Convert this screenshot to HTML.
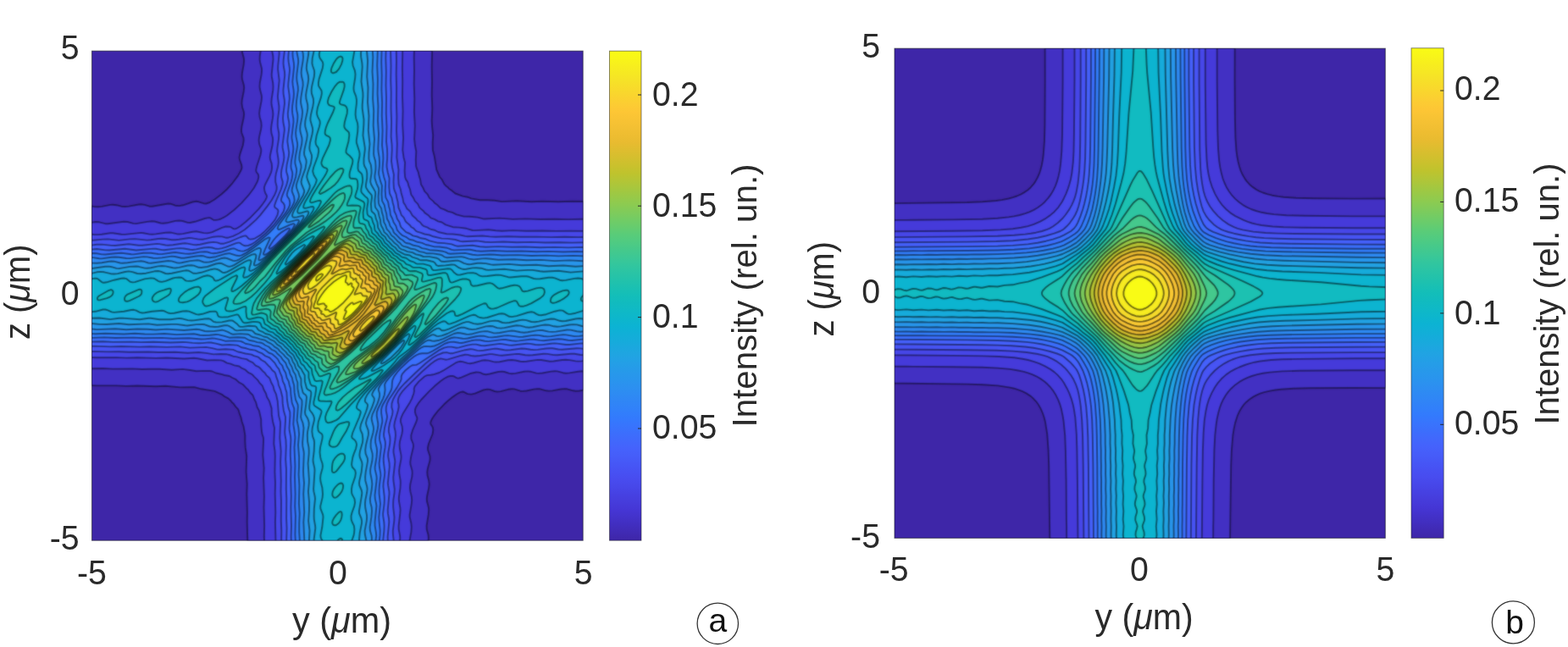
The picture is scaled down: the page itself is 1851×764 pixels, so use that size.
<!DOCTYPE html>
<html lang="en"><head><meta charset="utf-8"><title>Intensity distributions (a) and (b)</title>
<style>html,body{margin:0;padding:0;background:#fff}body{width:1851px;height:764px;overflow:hidden}svg{display:block}</style>
</head><body>
<svg width="1851" height="764" viewBox="0 0 1851 764" font-family="'Liberation Sans', sans-serif" fill="#2a2a2a">
<defs><filter id="bl" x="-2%" y="-2%" width="104%" height="104%" color-interpolation-filters="sRGB"><feGaussianBlur in="SourceGraphic" stdDeviation="1.1" result="b"/><feComposite in="SourceGraphic" in2="b" operator="arithmetic" k1="0" k2="0.5" k3="0.5" k4="0"/></filter></defs>
<clipPath id="cp1"><rect x="108.5" y="60.2" width="579.7" height="578.0"/></clipPath>
<rect x="108.5" y="60.2" width="579.7" height="578.0" fill="#3e26a8"/>
<g clip-path="url(#cp1)" stroke="#000" stroke-width="1.9" stroke-linejoin="round" filter="url(#bl)">
<path fill="#4230c3" stroke-opacity="0.45" d="M287.6 42.9l222.4 0 0.1 18.7-0.4 17.4 0.3 17.3-0.3 15.9 0.6 15.9-0.6 14.5 0.3 5.7 1.2 11.6-0.5 8.7 0.2 8.6 1.9 7.3 2.5 15.9 3.8 8.6 2.5 2.9 2.8 5.4 2.9 3 1.5 1 1.4 1.7 3 1.9 4.3 3.6 8.7 3.1 5.8 1.1 4.3 1.7 10.2 1.9 8.7 0 8.7 0.5 8.6 1.3 17.4-0.8 17.4 0.9 13.1-0.4 18.8 0.4 16-0.4 17.3 0.2 13.1-0.4 0 223-4.4-1.1-2.9-0.2-4.3 0.4-10.1 1.8-4.4 0.2-2.9-0.4-7.2-2-2.9-0.2-4.4 0.4-10.1 1.9-4.4 0.2-2.9-0.3-7.2-2-2.9-0.2-4.4 0.5-8.7 1.9-4.3 0.4-2.9-0.2-7.3-2.3-2.9-0.1-4.3 0.5-8.7 2.3-4.3 0.4-2.9-0.5-5.8-2.1-2.9-0.3-4.4 0.9-10.1 4.1-4.4 1-4.3-0.5-4.4-2.3-1.4-0.3-2.9 0.7-3.2 1.6-5.5 3.8-5.8 4.7-4.9 4.5-6.7 7.1-4.7 5.9-2.7 4.3-1.3 2.9-0.2 1.5 0.2 1.5 1.9 2.8 0.6 1.5 0.3 2.9-0.7 4.3-4.6 11.5-1 4.4 0.1 2.9 2.4 7.2 0.2 2.9-0.3 2.9-2.4 8.6-0.7 4.4 0.3 4.3 1.6 5.8 0.5 4.3-0.5 4.4-2.1 9.9-0.3 3.1 0.2 2.9 1.9 7.2 0.3 2.9-0.5 5.8-2.1 13 0.2 4.3 1.8 6.6 0.3 3.5-0.4 4.3-1.9 11.6-0.3 4.3-211.2 0 0.2-15.9-0.6-23.1 0.2-11.5-0.6-21.7 0.4-11.6-1.1-14.4 0.6-18.8-1.5-10.1-0.4-7.2 0-7.3-1.7-10.1-2-5.8-1.3-5.7-1.2-2.9-1.3-4.4-0.8-1.8-2.9-3.1-2.6-3.7-1.8-1.5-1-1.4-3-2.9-4.7-2.4-2.9-2.4-8.7-3.9-15.9-2.6-7.3-2-5.8-0.2-11.6 0.3-17.3-1.6-11.6 0.5-21.8-0.8-13 0.4-11.6-0.5-23.2 0-11.6-0.5-11.6 0.1 0-211.6 5.8-1.1 4.4-0.1 2.9 0.3 7.2 1.6 4.3 0.2 4.4-0.4 10.1-2 2.9-0.2 4.4 0.5 5.8 1.5 4.3 0.3 4.4-0.4 11.6-2.1 2.9-0.2 4.3 0.6 5.8 1.8 2.9 0.1 18.9-3.3 2.9 0.2 5.7 2 4.4 0.4 4.8-0.8 11.1-3.8 4.4-0.7 2.9 0.5 5.8 1.9 2.9 0.3 4.3-1.5 5.8-3.5 8.2-6.2 6.3-5.8 6.5-7.2 6.5-8.7 3.3-5.8 1.1-2.9 0.2-1.4-0.4-2.9-2.1-5.8-0.5-2.9 0.9-4.3 3.4-10.1 0.9-5.8-0.2-2.9-2.2-5.8-0.4-2.9 0.4-4.3 2.2-10.1 0.6-4.4-0.2-2.8-1.8-5.8-0.7-4.4 0.3-4.3 2-10.1 0.5-4.3-0.3-2.9-2-7.3-0.3-2.9 0.3-4.3 1.8-10.1 0.4-4.3-0.2-2.9-2-7.3-0.4-2.8 0.3-5.8 1.6-8.7z"/>
<path fill="#453ada" stroke-opacity="0.45" d="M307.4 42.9l181.6 0 0.2 8.6-0.5 15.9 0.3 15.9-0.3 15.9 0.6 17.4-0.4 15.9 0.9 15.8-0.7 15.9 0.8 7.3 1.4 7.2-0.5 10.1 0.3 7.2 0.8 2.9 1.9 4.4 0.9 4.3 1.4 4.3 0.9 5.8 2.5 4.3 1.7 3.9 3.4 3.4 2.4 4.6 4.7 4 1.1 1.7 3.8 2.7 3.5 3.6 4.3 1.5 4.4 2.3 5.1 1.2 5 2.5 8.7 2.2 7.3 0.1 8.7 0.9 6 1.6 2.7 0.3 17.4-0.9 15.9 1.3 14.5-0.5 17.4 0.6 17.4-0.3 15.9 0.4 17.4-0.4 17.4 0.3 0 181.4-4.4 0.4-2.9-0.2-7.2-1.9-4.3-0.4-4.4 0.4-10.1 1.7-4.4 0.3-3.4-0.5-6.7-1.8-2.9-0.2-4.4 0.4-10.1 1.9-4.4 0.4-2.9-0.3-7.2-1.9-2.9-0.3-4.4 0.4-10.1 2.1-4.4 0.3-2.9-0.3-5.8-1.9-2.9-0.4-4.3 0.4-10.1 2.5-4.4 0.7-2.9-0.4-3.5-1.6-2.3-0.6-2.9-0.1-5.8 1.2-11.6 5-2.9 0.8-1.4 0.1-1.5-0.4-2.5-1.6-1.8-0.6-2.9 0-2.9 0.7-4.4 2.3-4.3 3.1-7.2 6-6.1 5.8-9.6 10.1-3.5 4.4-2.7 4.3-1 2.9-0.1 2.9 0.7 2.9 1.4 2.9 0.4 1.4-0.1 1.4-0.9 2.9-4.4 10.2-1.7 5.7 0.1 4.4 2.3 5.7 0.3 2.9-0.5 2.9-2.4 10.1-0.8 5.8 0.2 2.9 2 7.2 0.2 2.9-0.4 4.4-2 8.6-0.4 4.4 0.5 4.3 1.4 5.8 0.4 4.3-0.4 4.3-2.2 13.1 0.1 2.8 1.7 7.3 0.4 4.3-0.4 5.8-1.8 10.1-0.3 4.3 0.3 2.9 1.6 5.8 0.4 4.3-173.3 0 0.1-11.5-0.6-10.1 0.3-13-0.6-21.7 0.4-13-0.8-21.7 0.6-11.6-1.4-15.8 0.8-17.4-0.2-2.9-1.4-4.3-0.5-2.9-0.7-7.2-0.1-7.3-2.3-10.1-2.3-4.3-1.5-5.8-1.6-2.9-2.1-5.5-2.9-2.7-2.9-4-1.5-1.1-4.3-4.7-4.4-2.3-4.3-3.9-3.9-1.8-3.4-2-5.8-1-4.3-1.3-5.8-1.2-4.4-2-2.9-0.5-7.2-0.1-8.7 0.3-7.3-1.2-8.7-1.1-13 0.8-14.5-0.9-10.1-0.1-10.2 0.3-11.6-0.6-23.2 0.2-11.6-0.6-21.7 0.3-8.7-0.4 0-170.6 2.9 0.1 4.4-0.2 14.4-2.2 4.4 0.3 7.2 1.9 2.9 0.1 18.9-2.6 4.3 0.3 6.9 1.9 3.3 0.2 13-2.2 5.8-0.6 2.9 0.2 7.3 2 2.9 0.3 4.3-0.5 10.1-2.4 4.4-0.4 4.3 0.5 5.8 1.9 2.9 0.1 5.8-1.2 11.6-3.8 4.4-0.9 1.4 0.1 1.5 0.7 2.9 1.8 2.9 0.2 2.9-0.5 2.9-0.9 3.6-1.8 3.6-2.2 8.7-6.7 8.7-8.2 8-8.9 6.5-8.7 3.9-7.2 1-2.9 0.6-2.9-0.4-2.9-2.1-2.8-0.5-1.5 0-1.4 1-4.4 4.2-13 0.8-4.3-0.1-2.9-2.1-5.8-0.5-4.3 0.5-4.3 2-8.7 0.6-4.4-0.4-4.3-1.7-5.8-0.5-4.3 0.5-4.3 2-10.2 0.4-4.3-0.3-2.9-1.9-7.2-0.3-2.9 0.3-4.3 1.9-10.1 0.4-4.4-0.2-2.9-1.9-7.2-0.4-2.9 0.2-4.3 2.2-14.5-0.1-2.9-1-4.3z"/>
<path fill="#4747e9" stroke-opacity="0.46" d="M322 42.9l153 0 0.2 20.2-0.3 17.3 0.3 15.9-0.2 17.4 0.6 17.3-0.4 15.9 0.9 15.9-0.8 14.4 1.2 8.7 1.6 6.2-0.5 9.7 0.5 7.2 1 2.9 1.9 2.7 0.6 1.7 0.8 3.4 1.6 3.8 1.3 6.3 2.7 3.8 1.7 3.7 3.5 3.5 2.2 4.6 4.8 4.1 1 1.6 4.4 3.1 2.9 3.2 4.3 1.5 4.4 2.4 4.4 1.2 4.4 2.9 8.6 2.8 7.2 0.4 8.7 1.2 7.3 2.2 2.9 0.1 15.9-0.9 8.7 1 7.2 0.5 13.1-0.6 15.9 0.6 18.9-0.2 15.9 0.4 17.4-0.3 17.4 0.3 14.5-0.4 0 152.8-2.9-0.3-4.4 0-11.5 1.4-4.4 0.2-2.9-0.2-7.2-1.3-4.4-0.3-4.3 0.2-10.2 1.5-4.3 0.2-10.2-1.7-4.3-0.1-13.1 1.8-4.3 0.3-2.9-0.2-5.8-1.3-4.4-0.5-4.3 0.3-10.1 1.9-4.4 0.3-2.9-0.4-5.8-1.5-4.3-0.3-4 0.5-9.1 2.7-4.3 0.7-2.9-0.3-5.8-1.8-2.9-0.3-2.9 0.6-2.9 1.3-14.5 9-4.4 2.3-7.2 2.3-2.9 0.5-4.4 0.3-2.9 1.4-6.7 5.9-4.8 5.7-1 2.9 0.2 2.9-0.6 2.9-2.1 5.8-2.2 4.3-8.1 13-2 4.4-0.9 2.8-0.1 2.9 1.8 5.8 0.4 4.4-0.7 4.3-2.4 8.7-0.4 4.3 0.3 4.3 1.5 7.3 0.2 2.8-0.3 2.9-1.7 8.7-0.5 4.3 0.3 4.4 1.3 7.2 0.1 2.9-0.3 5.8-1.5 10.1-0.2 2.9 0.2 2.9 1.3 7.2 0.3 2.9-0.3 4.3-1.7 14.5 0.1 4.3 1.4 7.2 0.2 2.9-1.5 14.5-0.3 5.7-145.3 0 0.3-15.9-0.6-23.1 0.4-11.5-0.6-21.7 0.3-13-0.6-13 0.4-18.8-0.3-5.8-1.2-8.7 0.7-18.7-1.9-7.3-1.3-8.6-0.2-7.3-2.7-8.6-2.7-4.4-1.2-4.3-2.6-4.8-1.5-4.3-3.7-3.9-2.1-3.2-4.2-4-1.5-1.8-1.5-1.1-3.4-1.5-3.8-3.5-4.4-2-2.9-2.2-5.8-1.1-4.3-1.7-4.4-1.1-4.3-2.4-2.9-0.8-7.3-0.3-8.7 0.4-11.6-2.3-4.3-0.4-11.6 0.7-20.3-1-13 0.4-21.8-0.6-13 0.3-11.6-0.5-23.2 0.2-11.6-0.5-11.6 0.2 0-145.6 4.4-0.6 4.3-0.2 11 1.4 4.9 0.1 4.4-0.3 10.1-1.5 2.9-0.1 10.2 1.6 4.3 0.1 18.9-2 2.9 0.3 7.2 1.4 2.9 0.2 4.4-0.4 11.6-1.7 4.3-0.2 2.9 0.3 5.8 1.4 2.9 0.3 4.3-0.4 11.6-2.4 4.4-0.4 8.7 1.8 4.3 0.3 2.9-0.5 2.9-0.8 11.6-5.3 4.4-1.3 4.3 0.2 1.9 0.6 2.5 1.7 1.4 0.4 1.5-0.2 1.4-0.5 4.4-2.7 5.8-4.7 6.2-5.6 9.7-10.1 4.6-5.8 3-4.3 1.4-2.9 0.4-1.4-0.2-1.5-1.7-2.9-0.8-2.9-0.4-2.9 0.2-1.4 1-2.9 5.2-10.1 1.8-4.3 0.7-2.9 0.3-2.9-0.4-4.4-1.5-4.3-0.5-2.9 0.3-2.9 2.6-11.5 0.6-5.8-0.2-2.9-1.6-5.8-0.4-4.3 0.4-4.4 1.5-8.6 0.5-4.4-0.3-4.3-1.5-7.2-0.2-2.9 0.3-4.3 1.6-10.2 0.2-4.3-0.3-4.3-1.4-7.3-0.1-2.8 1.8-17.4-0.2-4.3-1.4-7.2-0.2-2.9 0.2-4.4 0.9-7.2z"/>
<path fill="#4754f4" stroke-opacity="0.46" d="M328.3 42.9l139.7 0-0.3 11.5 0.3 17.4-0.3 15.9 0.4 15.9-0.2 17.3 0.5 17.3-0.4 15.9 0.8 15.9-0.5 15.9 2.2 14.5-0.4 8.6 0.5 8.7 2.2 5.8 0.9 4.9 1.6 5.2 1.1 5.8 2 2.9 2.1 4.3 3.5 2.9 2.8 5 4.4 3.7 1.4 2 3.4 2.3 2.3 3.1 1.5 1.2 4.3 1.5 2.9 1.8 1.5 0.6 4.3 1 4.4 2.3 10.1 2.3 7.3 0.2 8.7 1 5.8 1.4 2.9 0.3 17.4-0.7 8.7 0.9 7.2 0.4 14.5-0.5 14.5 0.5 18.8-0.2 17.4 0.5 16-0.3 15.9 0.3 23.2-0.3 0 138-11.6 1.3-4.4 0.2-4.3-0.3-7.2-1.2-4.4-0.1-15.9 1.6-4.4-0.2-7.2-1.2-4.4-0.2-13 1.6-4.4 0.2-4.3-0.3-7.3-1.2-2.9-0.1-17.4 1.9-2.8-0.2-8.7-1.5-2.9 0-11.6 1.9-5.8 0.5-4.4-0.5-4.3-1.1-2.9-0.1-4.4 0.9-15.9 4.7-2.9 0.3-4.4-1.1-1.4-0.1-2.9 0.7-3.2 1.6-5.5 4-10.2 9-19.2 18.8-3.9 4.3-2.9 4.1-1.6 3.1-0.8 2.9-0.1 2.9 0.8 2.9 0.1 2.9-0.9 4.3-3.8 13-0.7 4.4 0.3 2.9 1.1 4.3 0.3 4.3-0.6 5.8-1.9 11.6 0 2.9 1.6 8.6 0.2 2.9-2 17.4 0.1 4.3 1.4 10.1-0.2 4.3-1.3 8.7-0.2 4.3 0.1 4.4 1.3 11.5-0.2 4.4-1.5 11.5 0.1 4.4 1.3 11.5-0.2 5.8-1 7.2-131.7 0-0.3-7.2 0.3-21.7-0.5-11.5 0.2-23.1-0.5-11.6 0.3-13-0.7-21.7 0.6-13-1.4-15.9 0.7-15.9-0.1-2.9-1.8-7.2-1.4-17.3-1.8-8.2-2.3-4.8-1-4.4-2.5-4.6-1.5-4.3-0.9-1.2-3.3-2.9-1.8-2.9-1.8-1.4-3.9-4.3-1.3-1.1-3.9-1.8-3.3-3.5-4.4-2-2.9-2-5.8-1-5.7-1.7-4.4-0.7-4.4-1.7-2.9-0.7-7.2-0.3-8.7 0.4-8.7-1.5-8.7-0.9-13.1 0.7-14.5-1-20.2 0.3-11.6-0.5-23.2 0.2-11.6-0.5-13.1 0.2-21.7-0.5-14.5 0.4 0-132.7 4.4 0 8.7 1.3 2.9 0.1 14.4-1.4 5.8-0.2 13.1 1.5 13-1.5 5.8-0.3 14.5 1.5 4.4-0.3 8.7-1.3 4.3-0.2 4.4 0.2 7.2 1.2 4.3 0 4.4-0.4 11.6-1.8 2.9 0.1 8.7 1.5 4.3 0.1 4.4-0.8 8.7-2.2 5.8-0.6 4.3 0.3 4.4 1.3 2.9 0 5.8-1.8 7-3.4 6.6-4.3 5.4-4.4 7.9-7.2 4.9-5.2 8.7-11 4.9-6.9 3.8-6.8 1.4-3.3 0.8-2.9 0.1-2.9-1.5-5.8 0-5.8 0.7-4.3 2.4-8.7 0.5-4.3-0.3-4.3-1.4-8.7 0.3-4.3 1.6-10.2 0.3-4.3-0.1-2.9-1.3-7.2-0.2-2.9 0.2-5.8 1.5-11.5 0-4.4-1.3-8.6-0.2-2.9 1.8-18.8-1.6-13 0.1-4.4 1.5-14.4-0.3-4.3-1.3-8.7 0.1-5.8z"/>
<path fill="#4561fc" stroke-opacity="0.47" d="M334.5 42.9l127.1 0-0.5 18.7 0.4 15.9-0.3 17.4 0.5 14.4-0.2 18.8 0.6 15.9-0.5 17.4 1 10.1 0.1 5.7-0.7 13.1 1 7.2 1.9 8.6-0.4 8.7 0.4 7.2 0.8 2.9 1.9 4.4 0.7 4.3 1.2 4.3 0.9 7.3 1.9 4.3 1.4 4.3 2.9 3 2 4.3 0.9 1.2 4.4 3.6 1.4 2.1 3 1.7 2.8 3.1 1.5 0.9 4.3 1.1 4.3 1.7 5.8 1 4.4 1.8 10.1 2.3 7.3 0.3 8.7 1.1 5.8 1.9 2.9 0.4 15.9-0.8 2.9 0.1 7.3 1.1 7.2 0.4 14.5-0.6 15.9 0.7 17.4-0.3 16 0.6 17.4-0.3 14.5 0.4 18.8-0.4 11.6 0.3 0 125.5-5.8 0.7-4.4 0.1-10.1-1.4-4.3-0.2-17.4 1.6-4.4-0.3-6.9-1.2-3.2-0.1-4.4 0.3-10.1 1.4-4.4 0.2-3.9-0.3-6.2-1.1-4.4-0.2-13 1.7-4.4 0.3-2.9-0.2-8.6-1.6-2.9-0.1-13.1 2.2-4.3 0.3-2.9-0.2-5.8-1.5-2.9-0.2-5.8 1-14.5 4-2.9 0.1-4.4-1.2-4.3 0.4-5.8 2.3-7.1 4.1-7.2 5.8-12.5 11.5-12.3 12-4.4 4.6-4 5.1-3.6 5.8-2.2 4.3-1.4 4.4-0.2 4.3 1.2 4.3 0 1.5-0.4 2.9-3 10.1-1.1 5.8-0.2 4.3 1.4 5.8 0.3 4.3-0.3 4.3-1.9 10.2-0.2 2.9 0.2 2.8 1.3 7.3 0.2 4.3-2 18.8 0.3 2.9 1.3 7.2 0.1 2.9-1.8 18.8 0.2 4.3 1.1 5.8 0.3 4.3-1.7 17.4 0.2 5.3 1.2 9.1-0.4 7.2-119.9 0-0.5-18.7 0.4-13-0.5-11.6 0.2-23.1-0.5-11.6 0.2-23.1-0.8-11.6 0.6-15.9-0.3-7.2-1.2-7.2-0.1-2.9 0.8-13 0-4.3-2.1-7.3-1.2-8.6-0.3-7.3-2.1-8.6-2.4-5.8-0.7-4.3-2.1-5.8-0.7-2.9-1-2.1-2.9-2.4-2.9-4-1.4-1-4.4-4.8-4.3-2.4-2.9-2.8-1.5-0.8-4.3-1.3-2.9-1.5-7.2-1.1-4.4-1.2-4.3-0.8-5.8-2.6-8.7-0.7-7.3 0.5-2.9-0.1-5.8-1.5-7.2-1.2-18.9 0.7-11.6-1.2-15.9 0.5-20.3-0.7-11.6 0.4-21.7-0.6-13.1 0.4-13-0.5-10.1-0.1-10.2 0.4-5.8-0.2 0-119.9 7.3 1 4.3 0.2 11.6-1.5 5.8-0.2 11.6 1.3 4.3 0.1 16-1.7 11.6 1.4 4.3 0.1 17.4-1.9 2.9 0.2 7.3 1.4 2.9 0.2 5.8-0.5 11.5-1.7 2.9-0.2 2.9 0.3 7.3 1.5 2.9 0.2 4.3-0.5 10.2-2.3 5.8-0.6 4.3 0.5 4.4 1.4 2.9 0 7.2-2.2 13.1-5.6 4.3-1.4 1.5-0.1 1.4 0.5 1.8 2.3 1.1 0.9 1.5 0.4 2.9-0.3 2.9-1 5.7-3.4 4.6-3.8 7.1-7.3 5.9-7.2 3-5.8 0.9-4.3-0.3-1.4-0.9-1.2-2.9-2.2-0.3-1 0.1-1.4 1.5-4.4 6.1-14.4 1.8-5.8 0.2-2.9-1.7-5.8-0.2-4.3 0.5-4.3 2.5-10.1 0.5-4.4-0.3-4.3-1.5-7.2-0.1-2.9 2.3-17.4-0.1-2.9-1.4-7.2-0.3-4.3 0.3-4.4 1.7-13-0.2-4.3-1.2-7.2-0.2-4.4 1.8-17.3-0.2-4.3-1.1-5.8-0.4-4.3 0.2-4.4 1.4-11.5 0-4.4-1.5-10.8z"/>
<path fill="#3b6ffd" stroke-opacity="0.48" d="M341.1 42.9l114.5 0 0.2 8.6-0.5 17.4 0.5 15.9-0.3 15.9 0.5 14.4-0.2 18.8 0.7 15.9-0.5 17.3 1 8.7 0.2 5.8-0.1 5.8-0.6 7.2 0.1 2.9 1.2 6.3 1.8 6.7-0.3 10.1 0.6 7.2 0.4 1.5 2.2 4.3 1.1 5.6 1.3 4.5 0.6 5.8 2.1 4.3 1.2 4.4 2.7 4.3 1.2 4.3 0.8 1.5 5.8 5.8 4.6 1.9 3.6 2.4 5.1 1.1 4.3 1.8 5.8 1 4.3 2.1 10.2 2.4 7.2 0.3 8.7 1.3 4.4 1.7 2.9 0.6 17.4-0.9 8.7 1.4 7.2 0.6 14.5-0.7 15.9 0.7 16-0.3 17.4 0.7 17.4-0.3 15.9 0.5 16-0.5 18.8 0.4 0 114.6-5.8 0.1-8.7-1.4-4.3-0.2-14.5 1.6-4.4 0-10.1-1.4-2.9-0.2-4.4 0.3-10.1 1.4-4.4 0.2-4.1-0.3-6-1.1-4.4-0.2-17.4 2.1-2.9-0.2-8.7-1.5-2.8-0.2-17.4 2.4-4.4-0.3-5.8-1.4-4.3 0-5.8 1-10.2 2.8-2.9 0.3-5.8-1.1-4.3 0-4.4 1-5.8 2.8-23.2 15.3-2.8 1.6-1.5 0.6-4.3 0.4-2.9 1.7-5.8 4.8-3.3 3.9-1.1 2.9 0 2.9-1 2.9-4.1 7.2-9.6 14.4-2.1 4.4-1.1 4.3-0.1 4.3 1.2 5.8 0.1 1.5-0.4 2.8-2.6 10.2-1 7.2 0.2 2.9 1.5 5.8 0.2 2.8-0.3 4.4-1.5 8.7-0.4 4.3 0.1 4.3 1.5 11.6-0.3 4.3-1.4 8.7-0.2 4.3 1.3 11.6 0.1 4.3-0.2 4.3-1.5 11.6 0.1 2.9 1.1 7.2 0.3 4.4-0.2 5.7-1.5 14.5 0.2 2.9 1.3 7.2 0.1 4.3-109.4 0 0-10.1-0.5-11.5 0.4-13-0.6-21.7 0.4-13-0.6-20.2 0.4-14.5-0.8-13 0-7.2 0.6-11.6-0.3-4.3-1.4-7.2-0.2-2.9 0.9-14.5-0.1-4.3-1.6-4.4-0.7-2.9-1.1-7.2-0.5-8.6-1.4-4.4-0.9-4.3-2.2-4.3-1.2-5.8-2-4.4-1.4-4.3-2.4-2.9-2.5-4.4-5.6-5.7-1.6-1.1-4.4-1.7-3.8-3-3.9-1.4-3.8-2.1-6-0.8-4.7-1.5-5.3-1-4.3-2.3-1.5-0.4-8.7-0.6-8.7 0.5-7.2-1.9-5.8-1.1-2.9-0.1-7.3 0.7-4.3 0.1-7.3-0.3-7.2-0.8-4.4-0.1-14.4 0.5-20.3-0.7-14.5 0.3-11.6-0.5-21.8 0.3-11.6-0.6-21.7 0.4-8.7-0.4 0-107.9 8.7 0.1 14.5-1.5 10.1 1.4 4.4 0.1 18.8-1.7 13.1 1.7 20.3-1.9 2.9 0.1 7.2 1.4 2.9 0.2 14.5-1.9 4.3-0.3 4.4 0.4 7.2 1.3 2.9 0.2 4.4-0.6 8.7-1.9 5.8-0.5 4.3 0.5 4.4 1.3 2.9 0.1 4.3-0.8 4.4-1.2 11.6-4.5 2.9-0.8 1.4 0 1.3 0.5 1.6 1.4 2.7 1.5 1.7 0.2 2.9-0.1 4.3-1.6 4.4-2.8 12.5-10.2 9.2-9.5 8.2-10.7 3.6-5.8 1.2-4.3-0.2-2.9-1.2-2.3-2.2-2.1-0.5-1.4 0.1-1.5 0.9-2.8 5.1-13 1.3-4.4 0.7-4.3-0.4-2.9-1.4-4.3-0.2-2.9 0.6-5.8 2.2-10.1 0.4-4.4-1.9-13 0.3-4.3 1.3-8.7 0.6-5.8-0.3-4.3-1.2-5.8-0.2-4.3 2-17.3-0.2-4.4-1.4-10.1 0.2-4.3 1.6-14.5-0.2-3.5-1.1-6.6-0.4-4.3 0.2-4.4 1.4-13-0.1-3.7-0.5-3.5z"/>
<path fill="#327dfb" stroke-opacity="0.48" d="M347 42.9l103.2 0 0.5 13-0.5 17.3 0.5 15.9-0.3 17.3 0.7 14.5-0.3 15.9 0.8 17.3-0.6 17.4 1.2 10.1 0.2 5.8-0.8 11.5 0.1 2.9 1.5 7.2 1.8 5.8 0.1 2.9-0.4 7.2 0.5 7.3 0.3 1.4 2.3 4.1 0.5 1.7 0.7 4.3 1.3 4.4 0.6 5.7 2.3 4.4 1.4 4.3 2.8 4.3 1.3 4.4 0.7 1.2 2.7 3.1 3.1 2.7 4 1.6 4.1 2.9 4.9 1.1 4.4 2 5.7 1.1 4.4 2.1 4.3 0.8 5.8 1.6 5.8 0.1 9.3 1.3 2.3 0.8 2.9 1.3 2.9 0.5 16-0.8 2.9 0.1 7.2 1.5 5.8 0.5 14.5-0.7 15.9 0.8 17.4-0.3 17.4 0.7 14.5-0.3 17.4 0.6 16-0.5 15.9 0.5 8.7-0.2 0 104.6-11.6-1.5-4.4 0-14.4 1.6-4.4-0.3-7.2-1.2-4.4-0.2-17.4 1.9-4.3-0.3-7.3-1.1-4.3-0.1-13.1 1.7-4.3 0.3-4.4-0.4-7.2-1.3-2.9-0.1-17.4 2.2-4.3-0.3-5.8-1.3-4.4-0.1-5.8 0.9-8.7 2.2-2.9 0.5-2.9-0.2-5.8-1-4.3 0.1-2.9 0.6-4.4 1.7-13 7.9-4.4 2.3-2.9 0.9-5.8-0.1-2.9 0.5-2.8 1.1-4.4 2.6-5.5 4.4-9 8.4-4.2 4.6-4.3 5.8-1.9 4.3-0.4 2.9-0.3 5.8-0.8 2.9-2.2 4.3-7.6 13-1.2 2.9-0.7 2.9 0 4.3 1.1 7.2 0.1 2.9-2.8 13-0.6 5.8 0.3 2.9 1.5 5.8 0.2 2.9-2.3 18.8 0.3 4.3 1.3 7.2 0.2 2.9-1.5 11.6-0.4 5.8 0.1 4.3 1.4 11.5-1.7 15.9 0.2 4.4 1.2 11.5-0.2 5.8-1.4 11.6 0.2 4.3 1 7.2-99.6 0 0.4-11.5-0.7-13 0.5-21.7-0.7-11.6 0.4-14.4-0.6-20.2 0.4-13-0.9-21.7 0.9-11.6-0.5-5.8-1.6-10.1 1-15.9-0.1-2.9-2.3-5.7-0.3-1.5-1.2-8.7-0.4-7.2-1.3-4.3-0.9-4.3-2.3-4.4-1.3-5.8-2.5-4.3-1.5-4.3-2.9-2.9-2.2-4.4-2.8-2.9-3.8-3.2-4.3-1.7-4.4-3.6-2.9-1.2-4.3-2.7-5.8-0.7-4.3-1.4-5.8-1.2-2.9-1.7-2.9-1.1-7.3-0.5-10.1 0.4-5.8-1.7-7.3-1.5-2.9-0.1-8.7 0.9-4.3 0.1-14.5-1.3-18.8 0.5-13.1-0.8-21.7 0.4-11.6-0.7-21.8 0.4-13-0.6-13.1 0.5-18.8-0.6 0-97.7 18.8-1.6 4.4 0.3 5.8 1.1 4.3 0.1 11.6-1.3 7.3-0.4 4.3 0.4 7.3 1.1 2.9 0.1 11.6-1.6 4.3-0.2 4.4 0.1 8.7 1.3 4.3 0.1 13.1-1.9 2.8-0.2 11.6 1.6 4.4 0.2 4.3-0.5 8.7-1.7 5.8-0.4 2.9 0.3 4.4 1.4 2.9 0.3 4.3-0.5 4.4-0.9 11.6-3.8 2.9-0.6 1.4 0.1 4.4 2.1 2.9 0.8 2.9 0.2 1.4-0.2 4.4-1.8 5.8-3.8 7.2-5.6 11.6-9.7 5.8-6 13.4-17.1 3.8-5.8 1.8-4.3 0.3-2.9-0.5-2.8-0.5-1.6-1.9-2.8-0.6-1.5 0-1.4 0.7-2.9 4.1-11.6 1.1-4.3 0.6-4.4-0.2-2.8-1.4-4.4-0.3-2.9 0.5-5.7 2-10.2 0.4-4.3-0.2-2.9-1.5-8.7-0.2-2.8 2.1-17.4-0.2-4.3-1.1-5.8-0.3-4.3 0.2-4.4 1.5-10.1 0.3-4.3-0.3-4.4-0.9-5.7-0.4-4.4 1.8-17.3-0.2-4.3-1.2-7.3-0.3-4.3 1.5-14.5 0.1-4.3zM340.4 269.7l-3.2 1.5-4.6 2.9-3.6 2.9-3.1 3-3.5 4.2-3.7 5.8-1.3 2.8 1.2 1.3 2.9-1.7 2.9-2.3 11.9-11.7 2.7-2.9 2.1-2.9 0.8-1.4-0.1-1.5z"/>
<path fill="#2e8af3" stroke-opacity="0.49" d="M351.9 44.3l0.2-1.4 93.1 0 0.6 17.3-0.6 17.3 0.7 15.9-0.3 17.4 0.8 14.4-0.4 17.4 1 15.9-0.7 17.3 0.4 4.3 1 5.8 0.3 5.8-0.1 4.3-0.8 7.3 0.1 2.8 1.7 7.3 2 5.8-0.4 10.1 0.5 7.2 0.4 1.4 2.4 4.4 1.1 5.6 1.3 4.5 0.7 5.8 2.3 4.3 1.3 4.3 3.1 4.1 1.1 3.2 1 1.4 2.2 1.8 4.4 4.6 2.9 1.6 2.9 2.7 1.4 0.8 4.4 0.8 4.3 2 5.8 1.1 4.3 2.2 4.4 0.8 4.3 1.3 8.7 0.5 7.3 1.1 2.9 0.8 2.9 1.6 2.9 0.6 17.4-0.9 8.7 1.8 5.8 0.7 14.5-0.9 5.8 0.2 8.6 0.8 18.9-0.4 15.9 0.9 17.4-0.4 14.5 0.8 17.4-0.5 17.4 0.6 11.6-0.5 0 94.3-4.4-0.8-4.3-0.3-13.1 1.7-5.7 0.2-9.9-1.7-3.2-0.2-4.3 0.4-10.2 1.5-4.3 0.3-4.4-0.4-5.8-1.1-4.3-0.2-4.4 0.4-10.1 1.6-4.4 0.2-13-1.8-4.4 0.3-8.6 1.4-5.8 0.6-4.4-0.3-5.8-1.4-4.3-0.1-4.4 0.6-10.1 2.3-2.9 0.4-2.9-0.1-7.3-1.2-2.9-0.1-2.9 0.5-2.9 1-13 6.7-4.4 1.8-4.3 0.7-5.8-0.3-2.9 0.4-2.9 1.4-2.9 2-11.8 10.2-8.5 8-13.1 13.7-4.7 5.8-1.5 2.8-0.3 1.5 0.5 5.8-0.8 5.7-1.6 4.4-5.8 11.5-1.5 4.4-0.2 4.3 1.5 8.7 0.1 2.9-0.6 4.3-2.2 8.7-0.4 4.3 0.1 2.9 1.5 6.3 0.4 3.8-0.6 7.2-1.9 11.6 0.1 2.9 1.7 7.2 0.3 2.9-0.3 4.3-1.9 15.9 0.3 4.4 1.3 5.7 0.3 2.9-1.9 18.8 0.1 4.4 1.2 7.2 0.4 4.3-1.8 14.5 0 4.3 0.4 4.3-89.6 0 0.8-14.4-0.8-13 0-10.1 0.5-11.6-0.8-11.6 0.5-21.6-0.8-13 0.4-8.7 0.1-11.6-1.1-14.4 1.1-13-0.7-7.2-1.8-8.7 1.2-15.9-0.2-2.9-2.6-5.8-1.4-8.6-0.5-8.7-1.4-4.3-0.9-4.4-2.3-4.3-1.1-4.4-2.6-4.3-1.5-4.3-3.8-4.4-1.8-2.9-4.4-3.9-1.4-1.9-1.5-1.2-3.7-1.6-3.5-3.3-4.4-2-2.5-1.9-1.8-0.8-4.9-0.7-4.5-1.4-5.1-1-4.3-2.5-1.5-0.5-7.2-0.5-10.2 0.5-5.8-1.9-7.2-1.7-2.9-0.1-7.3 0.8-7.2 0.2-4.4-0.3-4.3-1-2.9-0.4-20.3 0.8-14.5-1.1-13 0.6-10.2-0.1-11.6-0.7-13 0.7-21.8-0.8-11.6 0.6-11.5-0.6-10.2-0.1 0-88.5 7.3-1.1 7.2-0.2 4.3 0.3 7.3 1.2 2.9 0.1 11.6-1.6 4.3-0.3 4.4 0.2 8.7 1.3 4.3 0.1 16-2 4.3 0.3 7.3 1.4 4.3 0.1 5.8-0.5 11.6-1.8 3.9 0.4 7.7 1.7 2.9 0.1 14.5-2.3 5.8-0.5 2.9 0.3 4.3 1.5 2.9 0.4 7.3-1 11.6-3.5 4.3-0.6 8.7 2.7 2.9 0.3 2.9-0.7 5.8-3 8.2-5.6 13.5-10.2 4.4-2.2 1.4 0.5-0.3 1.8-5.4 11.6-1.7 4.3-0.2 1.5 0.4 0.7 1.4 0 1.5-0.6 2.9-2 7.2-6.1 15.2-15.1 5-5.8 2-2.9 1.3-2.9-0.3-0.8-1.4-0.4-4.4 1.4-11.6 5.2-1.4 0.3-1.2-1.4 1-2.9 1.8-2.9 10.7-14.4 3.8-5.8 2.1-4.3 0.7-2.9-0.6-4.3-2.3-5.8-0.2-1.5 0.4-2.9 4.1-13 1.1-7.2-0.3-2.9-1.5-5.8-0.1-2.8 0.6-5.8 1.7-8.7 0.6-4.3-0.2-2.9-1.5-7.2-0.4-4.4 0.4-4.3 1.6-10.1 0.3-4.4-0.1-2.9-1.2-5.7-0.4-4.4 0.3-5.8 1.9-13-0.2-4.3-1.2-6.3-0.3-3.8 0.2-4.3 1.8-14.5-0.2-3.6-1.5-7.5-0.2-3.3 0.2-4.4 1.2-8.6z"/>
<path fill="#2896ec" stroke-opacity="0.49" d="M357.1 42.9l82.6 0-0.4 8.6 1 15.9-0.8 17.4 1 14.4-0.4 17.4 1.1 14.4-0.5 17.3 1.3 15.9-0.7 10.2-0.2 7.2 0.4 2.9 1.6 5.8 0.4 5.7-0.1 4.4-1 7.2 0.1 2.9 1.8 5.8 2.6 5.7 0.3 2.9-0.6 7.3 0.3 7.2 0.8 2.9 1.9 2.9 0.6 1.4 0.7 4.3 1.4 4.4 1 7.2 1.7 2.9 1.3 4.3 0.8 1.5 2.8 2.9 1.6 2.9 1.2 1.4 2.3 1.7 4.4 4.8 2.8 2.2 2.5 2.9 1.9 0.9 4.4 1.1 4.3 1.8 4.4 0.6 5.7 2.7 4.4 0.8 4.3 1.4 7.3 0.1 8.7 1.4 1.9 0.7 2.4 1.8 2.9 0.9 17.4-1.1 2.9 0.6 5.8 1.9 5.8 0.9 10.2-1.1 4.3-0.1 5.8 0.4 8.7 1.1 18.8-0.6 14.5 1.1 17.4-0.4 16 1.2 17.4-0.7 15.9 0.9 17.4-0.9 0 82-5.8 0.2-10.2 1.7-4.3 0.4-4.3-0.4-7.3-1.7-4.3-0.1-13.1 2.1-4.3 0.3-4.4-0.3-7.2-1.6-2.9-0.1-4.4 0.5-10.1 1.9-4.4 0.4-4.3-0.4-7.3-1.6-2.9-0.2-4.3 0.6-10.1 1.9-4.4 0.4-2.9-0.2-7.2-2-2.9-0.1-5.8 0.8-8.7 2.3-4.4 0.7-2.9-0.1-7.2-1.6-2.9-0.2-4.4 1-13 6.1-4.4 1.6-5.8 1-2.9-0.2-2.9-0.9-1.4 0.1-2.9 1.1-4.4 3.1-21.7 19.8-18.9 18.9-7.6 8.6-1.9 2.9-1.3 2.9-0.1 1.5 1.3 4.3 0 2.9-0.6 2.9-1.9 5.8-6 13-1 4.3 0.3 2.9 1.9 7.2 0.3 2.9-0.7 4.3-2.4 8.7-0.4 4.3 0.1 4.4 1.9 7.2 0.2 2.9-0.5 5.8-1.9 8.6-0.3 2.9 0.1 2.9 1.7 8.5 0.4 4.5-0.5 5.8-2 11.6 0.4 4.3 1.5 5.8 0.3 4.3-0.6 7.2-1.8 11.6 0.3 4.3 1.7 5.8 0.3 2.9-0.2 4.3-2.1 15.9-78 0-0.2-5.7 0.9-11.6-1-21.7 0.9-11.5-1-21.7 0.8-13-0.8-8.7-0.2-5.8 0.8-20.2-0.3-2.9-1.2-5.8-0.2-4.3 1.4-17.3-1-5.8-1.7-4.4-0.7-2.8 1.4-14.5 0-4.3-0.4-1.5-2.4-2.9-0.7-1.4-1.6-8.7-0.1-7.2-1.5-4.3-0.9-4.4-0.6-1.4-2.1-3.2-1.8-5.5-2.6-4.3-0.8-2.9-0.8-1.5-3.3-2.9-2.2-2.8-4.5-4-1.4-2-1.5-1.3-2.9-1.6-2.9-2.8-1.4-1-3.8-1.8-3.5-2.4-5.8-1.3-4.3-1.5-4.3-0.9-1.5-0.6-2.9-2.1-1.4-0.6-8.7-0.6-8.7 0.7-2.6-0.8-3.2-1.8-4.4-1.8-2.9-0.7-10.1 1.4-7.3 0.1-2.9-0.2-5.8-1.7-4.3-0.5-14.5 1.2-20.3-1.4-13 0.9-10.2-0.7-11.6-0.3-13 0.8-13.1-1-21.7 0.8-11.6-1.2-11.6 0.7 0-78.9 4.4-0.7 4.3-0.1 8.7 1.6 5.8 0.3 5.8-0.5 8.7-1.5 2.9-0.3 2.9 0.2 7.2 1.8 2.9 0.3 5.8-0.5 11.6-1.7 4.4-0.3 2.9 0.4 5.8 1.8 2.9 0.2 20.3-2.7 4.3 0.4 5.8 1.8 2.9 0.4 2.9-0.3 10.1-2.2 8.7-0.8 2.9 0.5 4.4 1.7 2.9 0.3 2.9-0.2 4.3-0.9 10.2-3.4 4.3-0.8 2.9 0.5 7.3 2.9 1.4 0.2 2.9-0.5 2.9-1.3 17.4-10.8 2.9-1.5 2.9-1.1 1.4 0.1 1 1.3-0.2 2.9-2.4 8.6 0.2 1.5 1.4 0.1 2.9-1.6 2.9-2.1 10.2-8.6 18.3-18.1 6.3-7.3 3.2-4.3 1.7-2.9 0.5-1.4-0.8-1.5-1.7 0.1-10.1 2.7-1.5 0-1.5-1.3 0.3-1.5 1.3-2.9 8.4-13 3.4-5.8 1.4-2.9 0.8-2.8-0.3-2.9-2.6-7.3-0.3-2.8 0.6-2.9 3.9-11.6 1.3-7.2-0.2-2.9-2-5.8-0.1-2.9 0.6-5.8 2.3-10.1 0.4-4.3-0.2-2.9-1.9-7.2-0.3-2.9 0.3-4.4 2-10.1 0.6-5.7-0.3-2.9-1.6-7.3-0.2-2.9 0.3-4.3 2.4-14.4-0.2-4.4-1.4-5.8-0.5-4.3 0.3-4.3 1.7-10.1 0.4-4.4-0.3-4.3-1.5-5.8-0.4-2.9 0.1-4.3 0.9-5.8z"/>
<path fill="#22a2e4" stroke-opacity="0.50" d="M362.1 44.3l0.2-1.4 71.7 0-1.1 13 0.1 4.3 1.1 11.6-0.9 18.7 1.3 13.1-0.5 17.3 1.5 15.9-0.7 17.3 1.7 15.9-1 10.1-0.1 7.3 0.5 2.9 1.9 4.3 0.7 5.8 0 4.3-1.1 7.2-0.2 2.9 0.9 2.9 4.9 8.7 0.2 2.9-0.8 7.2 0.4 7.2 0.5 1.6 3.1 4.2 1.2 5.8 1.4 4.3 0.3 4.3 0.9 2.9 1.7 2.9 1.7 4.4 3.4 2.9 3 4.3 2.1 1.6 3.7 4.2 3.6 2.7 2.1 3 2.2 1.5 2.9 0.8 4.4 2 5.8 1 4.3 2.3 5.1 1.1 3.6 1.5 7.2 0.1 8.7 1.7 2.2 1 2.2 2.3 1.4 0.7 2.9 0.2 13.1-1.3 2.9 0 2.9 1 4.3 2.2 2.9 0.8 2.9 0.5 2.9-0.2 7.3-1.2 4.3-0.1 5.8 0.4 5.8 1.3 2.9 0.3 18.8-0.8 14.5 1.4 17.4-0.5 14.5 1.4 17.4-0.7 14.5 1.2 17.4-1.1 8.7 0.6 0 69.1-10.2 1.8-4.3 0.4-4.3-0.5-5.8-1.6-4.4-0.3-4.3 0.4-10.2 1.9-4.3 0.4-4.1-0.5-6.1-1.6-4.3-0.2-4.4 0.6-10.1 2.1-4.4 0.5-4.3-0.5-5.8-1.6-4.4-0.3-4.3 0.7-10.2 2.1-4.3 0.5-4.3-0.5-4.8-1.8-3.9-0.3-4.4 0.4-11.6 3.2-4.3 0.5-4.4-0.6-5.8-1.8-2.9 0-4.3 1.3-12.3 6-6.6 2.4-4.3 0.7-1.7-0.2-2.9-1.5-1.2-0.2-1.5 0.2-4.3 2.2-4.4 3.2-5.8 5-11.5 11.1-8.7 7.8-22.8 22.8-8.7 10.1-2.9 4.3-1.4 2.9-0.2 1.4 0.6 1.5 1.3 1.4 0.7 1.5-0.1 2.9-2.5 7.2-6.3 14.4-1 4.4 0.6 2.9 2.1 5.5 0.4 3.1-0.2 2.9-2.8 11.6-0.8 5.8 0.4 4.3 2.3 5.8 0.2 2.9-2.4 13-0.6 5.8 0.2 4.3 1.9 7.2 0.4 2.9-0.5 4.3-1.8 8.7-0.4 4.3 0.3 4.4 1.7 8.7 0.2 2.8-0.3 4.4-2.2 11.5 0.2 4.4 1.6 7.2 0.4 4.3-0.3 5.8-1.3 7.2-66 0-0.8-7.2 1.1-21.7-1.4-11.5 0.8-11.6 0.2-10.1-1.2-13 0.9-10.1 0.1-4.3-1.3-18.8 1.1-11.6 0-4.3-0.2-2.9-1.4-7.2-0.3-7.3 0.3-4.3 1.5-7.2 0.1-2.9-0.6-2.9-1.1-2.9-2.6-4.3-0.4-2.9 1.2-8.7 0.8-8.7-0.3-1.4-1-1.4-2.2-1.5-1-1.4-2-8.7-0.1-7.2-2-4.4-1.3-4.3-3-4-1.4-4.7-2-2.9-1.5-4.3-0.9-1.5-3.8-2.8-2-3-4.4-3.9-1.4-1.9-1.5-1.2-2.9-1.7-2.9-3.3-1.2-0.9-3.6-1.5-3.9-2.8-4.3-0.9-4.4-2-5.6-1.5-3-3-1.5-0.8-7.2-0.7-10.2 0.9-2.2-0.7-2.1-1.8-4.4-2.7-2.9-1.1-2.9 0.1-7.2 1.5-4.4 0.3-5.8-0.5-5.8-2.2-2.9-0.3-7.2 0.1-10.2 1.4-2.9-0.2-10.1-1.4-5.8 0-17.4 0.8-10.1-1.3-23.2 0.9-11.6-1.3-14.5 1-8.7-0.1-11.6-1.1-10.1 1.1-4.4 0.1 0-68.2 2.9-0.2 2.9 0.3 5.8 1.8 2.9 0.5 2.9-0.2 15.9-2.2 4.4-0.2 2.9 0.6 5.8 1.7 2.9 0.2 13-2.2 7.3-0.4 2.9 0.3 7.2 1.8 2.9 0.2 4.4-0.5 8.7-1.9 4.3-0.4 4.4 0.4 8.7 1.9 2.8 0.2 4.4-0.6 10.1-2.4 4.4-0.3 2.9 0.4 5.8 2.2 2.9 0.2 7.2-1 10.2-3.5 4.3-0.8 2.9 0.6 6.6 3.2 2.1 0.4 2.9-0.7 2.9-1.3 16.1-9.9 4.2-2.1 2.9-0.8 1.5 0.1 1.1 1.3-0.3 2.9-2.2 7.2 0.1 1.5 1.3 0.5 2.8-1 2.9-1.9 16-14.1 21.1-21.1 7.6-8.7 3.4-4.3 2.7-4.3 0.6-1.5 0-1.4-0.6-0.5-1.5 0-5.8 1.6-2.9 0.4-1.4-0.2-1.1-1.3 0-1.5 0.9-2.9 1.4-2.8 10.4-17.4 1.4-4.3-0.1-1.5-3-7.2-0.6-2.9 0.9-4.3 4.1-11.6 1.2-7.2-0.2-2.9-2.3-5.8-0.2-2.9 0.6-4.3 2.6-11.6 0.6-4.3-0.3-2.9-2.1-7.2-0.3-2.9 0.3-4.3 2.2-10.1 0.7-4.4-0.1-4.3-1.8-7.2-0.3-4.4 0.6-4.3 2-10.1 0.5-4.4-0.4-4.3-1.6-5.8-0.4-2.9 0.3-4.3 2-11.6 0.3-4.3-0.5-4.3-1.6-5.8-0.3-4.3z"/>
<path fill="#16abdb" stroke-opacity="0.51" d="M368.8 42.9l58.5 0 0.2 5.7-1.5 14.5 0.2 4.3 1.2 7.3 0.3 4.3-1.2 17.3 1.9 13 0.1 4.4-0.8 10.1 0 4.3 1.8 13-0.1 5.8-0.9 13 2.3 14.5 0 2.8-1.3 10.2 0 5.7 0.7 2.9 2.4 4.4 0.7 4.3-0.1 5.8-1.2 7.2-0.1 2.9 0.5 1.4 2.8 4.4 2.7 2.9 0.9 1.4 0.2 2.9-1.1 7.2 0.5 7.3 0.5 1.6 2.9 2.6 1 1.5 1 4.4 1.7 4.3 0.7 6.2 4.3 7.7 4.1 3.4 1.7 3.2 1 1.2 1.9 1.4 3.9 4.4 3.4 2.2 2.9 3.8 7.2 3.9 1.5 0.6 5.7 1 3 2.1 5.8 1.8 2.8 1.5 1.5 0.4 6.7 0 7.8 1.7 1.9 1.2 1.8 2.9 2.1 0.9 8.7-0.6 7.2-0.9 2.9 0.1 1.5 0.6 4.3 3 2.9 1.2 2.9 0.6 2.9-0.2 7.3-1.4 4.3-0.2 5.8 0.5 5.8 1.8 2.9 0.4 18.8-1.1 14.5 1.8 13.1-0.7 5.8 0 8.7 1.4 4.3 0.5 17.4-1 14.5 1.8 17.4-1.5 4.3 0.3 7.3 1.2 2.9 0.2 0 56-4.4 0.9-4.3 0.3-2.9-0.4-5.8-2.1-4.3-0.5-4.4 0.5-11.6 2.5-4.3 0.3-2.9-0.5-5.8-2-4.4-0.3-4.3 0.7-10.2 2.4-4.3 0.6-4.4-0.2-6-1.9-4.1-0.5-4.4 0.7-11.6 2.7-4.3 0.4-3.7-0.4-5-2-4.3-0.4-5.8 0.8-10.2 2.9-4.3 0.5-4.4-0.7-5.8-2-2.9 0-4.3 1.2-16 7.1-5.8 1.9-2.9-0.1-2.9-2.4-1.4-0.2-1.5 0.3-4.3 2.3-7.3 5.6-8.7 7.6-13 12.5-9.6 8.4-8.2 8.7-13.3 13-14.7 15.9-3.2 4.3-2.2 4.4-0.4 2.9 0.6 1.4 1.7 1.5 0.9 1.4 0 1.4-0.6 2.9-1.5 4.4-5.8 14.4-0.9 4.4 0.5 2.9 2 4.3 0.7 5.8-0.4 4.3-3 10.1-0.6 4.4 0.4 2.8 2.4 5.8 0.4 2.9-0.9 8.7-2.3 10.1-0.4 2.9 0.3 2.9 2.5 5.8 0.5 2.8-0.2 2.9-3.2 18.8 0.2 2.9 2.4 5.8 0.6 2.9-0.1 2.9-2.3 11.5-0.7 7.3 0.4 3.8 1.8 4.8 0.6 2.9 0 2.9-0.8 4.3-53.8 0-1.4-14.2-0.2-4.5 1.7-13-0.2-2.9-1.3-7.3-0.2-4.3 0.2-8.7 1.2-11.5-0.3-2.9-1.3-5.8-0.3-2.9 1.4-21.7-0.2-2.9-1.6-7.2-0.2-2.9 1.2-10.1 0.4-10.1-0.4-2.9-1.6-4.3-0.8-5.8 0.4-4.3 2.2-8.7 0.1-2.9-0.9-2.9-1.6-2.9-2.3-2.9-0.7-1.4-0.3-1.5 0.1-2.9 1.9-13 0.1-2.8-0.8-1.8-2.9-1.4-1.5-1.5-2.2-8.3-0.2-7.3-2.6-4.3-1.3-2.9-2.8-2.9-1-1.4-1.4-4.4-2.7-4.3-1.2-2.9-1.1-1.4-3.5-2.9-1.9-2.9-4.2-3.8-1.5-2-1.4-1.1-3.4-1.8-3.8-4.3-3.2-1.5-4-2.9-5.4-1.4-3.4-2.2-4.3-1.7-1.5-1.6-1.4-2.4-1.4-0.8-7.3-0.6-7.2 1.2-2.9 0-1.5-0.6-2.9-3.1-4.3-3.2-1.5-0.6-2.9 0.1-8.7 1.9-4.3 0.2-2.9-0.1-2.9-0.7-2.9-2.4-1.5-0.8-1.4-0.3-4.4 0.2-13 1.9-2.9 0.1-4.1-0.4-7.5-1.9-2.9-0.3-10.1 1.3-8.7 0.1-4.4-0.1-10.1-1.5-2.9 0.1-10.2 1.4-20.3-1.6-4.3 0.2-10.2 1.3-13-1.6-10.1 0.2-10.2 1.3-2.9 0-2.9-0.5 0-55 7.3 2 2.9 0.4 4.3-0.5 8.7-2.1 4.3-0.4 4.4 0.4 7.6 1.9 4 0.3 4.3-0.4 8.7-2.1 4.4-0.6 4.3 0.7 5.8 1.9 4.4 0.3 5.8-0.6 10.1-2.4 4.4-0.3 2.9 0.6 5.8 2.4 2.9 0.3 4.3-0.6 14.5-3.1 2.9-0.3 2.9 0.4 4.3 2.6 1.5 0.5 2.9 0.1 5.8-1.1 11.6-3.6 4.3-0.8 2.9 0.6 2.2 0.9 4.2 2.8 2.3 0.3 2.9-0.9 4.4-2.2 17.4-10.1 2.9-1.3 2.9-0.4 1 1.6-0.6 2.9-1.4 4.4-0.3 2.9 1.3 1 1.4-0.2 2.9-1.3 2.9-1.8 2.9-2.1 4.3-3.9 14.5-13.9 21.2-21.2 11.6-13 5.4-7.2 1.4-2.9 0.3-1.5-0.7-1.4-1.5 0-5.8 1.7-2.9 0.6-1.4-0.3-0.6-0.6-0.3-1.4 0.7-2.9 1.4-2.9 9.7-15.9 2.6-5.8 0.3-2.8-2.9-7.3-0.7-2.9 0.1-1.4 1.1-4.3 3.5-10.2 1.2-7.2-0.2-2.9-2.3-5.8-0.3-2.8 0.7-5.8 2.5-10.1 0.7-4.4-0.2-2.9-2.5-8.6-0.1-2.9 0.6-4.4 2.4-10.1 0.7-4.3-0.2-4.3-2-6.2-0.3-4 0.5-4.3 2.7-11.6 0.4-4.3-0.2-2.9-2-5.8-0.6-2.8 0.3-5.8 2.2-10.1 0.6-4.4-0.3-4.3-2.1-5.8zM475.2 402.4l-4.4 3.7-18.2 18.2-2.3 2.9-0.7 1.5 0.9 0.6 1.5-0.4 2.9-1.6 5.8-4.2 10.1-9.9 2.9-3.6 2.9-4.7 0.8-2.2-0.8-0.9z"/>
<path fill="#0cb4d0" stroke-opacity="0.51" d="M381.9 42.9l33.7 0 0.5 2.9 2.4 5.7 0.4 2.9 0 2.9-2.8 15.9 0.5 4.3 2.3 5.8 0.6 4.4-0.3 4.3-1.6 10.1-0.1 2.9 0.4 2.9 2.3 5.8 0.8 4.3-0.1 4.3-1.1 8.7-0.2 4.3 0.6 4.4 1.9 5.8 0.4 4.3-0.3 5.8-1.4 10.1 0.1 2.9 3.2 10.1 0.5 2.9-0.2 2.9-1.7 8.6-0.2 5.8 0.7 2.9 3.3 2.9 0.8 1.3 0.8 4.5 0 4.3-1.8 8.7 0.1 2.9 0.8 1.4 4.1 4.4 1.9 1.4 1.1 1.4 0.2 2.9-1.3 8.7 0.4 5.8 0.5 1.4 1.5 1.5 2.6 1.4 0.7 1 1.3 4.8 1.6 3.3 0.6 5.4 0.6 1.4 2.9 2.9 1.7 2.9 4.4 3.8 1.7 3.4 1.1 1.5 2 1.4 3.9 4.3 2.9 1.8 3.4 4 3.8 2 2.9 2.4 1.5 0.8 4.3 0.9 4.4 3.3 4.3 1.3 2.9 1.8 1.5 0.5 7.1 0 7.3 2 1.5 0.9 1.4 3.2 1.5 1.3 2.9 0.1 14.5-1.9 2.9 0.3 1.9 1.4 2.4 2.9 2.9 2.2 1.5 0.6 2.9-0.1 8.7-2.1 4.3-0.3 2.9 0.2 2.9 0.7 4.4 2.7 2.9 0.7 5.8-0.4 10.1-1.3 2.9-0.1 2.9 0.3 8.7 2.3 2.9 0.3 13-1.3 5.8 0 2.9 0.6 5.8 2.2 2.9 0.4 4.4-0.2 10.1-1.4 4.4 0 2.9 0.6 5.8 2.3 2.9 0.5 4.3-0.3 10.2-2 4.3-0.4 4 0.5 6.1 2.4 2.9 0.5 4.4-0.4 5.8-1.2 0 40.1-2.9-0.7-4.4-3.1-2.9-0.8-4.3 0.4-11.6 3.5-5.8 1.2-2.9-0.2-1.4-0.6-4.4-3-1.4-0.5-2.9-0.2-5.8 1.3-10.2 3.5-5.8 1.1-2.9-0.3-2.7-1.1-3.1-2-2.9-0.6-4.3 0.7-13.1 4.1-5.8 1-2.9-0.3-5.8-3.1-2.9-0.5-4.3 0.6-13 4.2-4.4 0.6-4.3-0.6-2.8-1.2-2.2-1.5-2.3-0.5-2.9 0.6-2.9 1-15.9 7-5.8 2-1.5 0.2-1.4-0.3-2.9-2.6-1.5-0.4-1.4 0.2-2.9 1.1-2.9 1.5-5.8 4.2-27.5 25.4-4.4 3.6-8.4 6.1-2.6 2.9-2.1 2.9-5.2 5.8-27.1 27.5-4 4.3-5.5 7.2-2.4 4.4-1 2.8-0.2 1.5 0.2 1.4 1.6 1.5 2.4 1.4 0.6 1.5-0.2 1.4-1.4 4.4-7.9 18.7-1.1 4.4 0.5 1.8 2.9 2.3 1.5 2 0.8 2.5 0.1 1.5-0.9 4.3-2.3 5.8-1.4 4.3-1 5.8-0.3 2.9 0.7 2.9 2.8 3.1 0.7 1.2 0.6 2.9-0.7 4.4-3.5 10.1-0.7 4.3 0.1 4.3 0.6 2.1 2.8 5.2 0.6 4.3-0.8 4.3-2.7 7.3-1.1 4.3 0.2 4.3 1 2.9 2.2 4.4 0.5 4.3-0.3 4.3-0.6 2.9-3.1 8.7-0.5 2.9 0.4 3.1 3.6 5.6 0.6 2.8-38.4 0 2-10.1 0-2.9-0.4-1.4-2.9-5.8-0.4-2.9 1.9-10.1 1.2-11.6-0.3-2.8-2.8-7.3-0.2-2.9 2.4-10.1 0.4-4.3-0.6-7.2-1.9-7.3-0.4-4.3 0.5-4.3 2-7.3 0.3-2.8-0.4-2.9-1.6-4.4-0.7-2.9-0.7-5.7 0.5-5.8 2.4-10.1 0.3-2.9-0.2-1.5-0.5-1.4-3.4-2.5-1-1.8-0.5-4.4 0.7-5.8 3.4-10.1 0.3-1.4-0.1-1.5-1.2-1.4-6.8-4.4-1-1.4-0.1-2.9 1.9-8.7 0.9-5.7 0.1-2.9-0.9-1.5-4.4-0.9-1.4-1.7-2.1-7.5 0-5.8-0.5-1.4-2.8-2.9-2.6-4.3-2.2-1.5-1.2-1.4-1.5-4.4-3.1-3.9-1.4-3.3-1.3-1.4-3.1-2.6-2-3.2-2.3-1.7-3.5-4.1-5.1-2.9-3-3.6-3.6-2.2-2.9-2.8-5.1-1.5-4.2-2.9-3.1-1.4-1.2-1.5-1-2.9-1-1.4-2.6-0.8-4.3-0.3-2.9 0.3-5.8 1.1-2.9 0-1.4-0.9-0.7-0.9-4.5-7.2-0.6-0.6-1.5-0.3-10.1 2.8-7.3 0.4-2.9-0.4-0.9-0.4-1.2-1.5-0.8-2.9-1.2-1.4-1.7-0.4-5.8 0.4-8.7 2.8-4.3 0.7-2.9-0.4-8.7-3.5-2.9-0.4-4.4 0.3-10.1 2.2-4.3 0.4-2.9-0.6-4.4-2.2-2.9-0.6-11.6 1-8.7 1.6-2.9 0.2-2.9-0.6-4.3-2.3-2.9-0.8-2.9 0.2-8.7 1.8-11.6 1.1-2.9-0.5-4.4-2-2.9-0.9-2.9 0-8.7 2.3-5.7 0.6-7.3-0.4-8.7-2.4 0-32.1 11.6-2.6 7.2-2 2.9-0.3 2 0.4 0.9 0.5 4.4 3.6 1.4 0.6 1.5 0.1 2.9-0.5 8.7-2.6 8.7-1.9 2.9-0.3 2.9 0.6 4.3 3.5 2.9 0.8 2.9-0.3 11.6-3.7 7.3-1 2.9 0.2 1.3 0.4 4.5 2.9 1.4 0.6 2.9 0.4 4.4-1 8.7-3.4 2.8-0.6 4.4-0.4 2.9 0.3 1.4 0.7 2.9 2.5 1.5 0.6 2.9 0.3 2.9-0.1 4.3-1.1 10.2-4.5 4.3-0.9 2.9 0.5 2.9 1.4 1.5 1.5 1.4 2.5 1.5 0.5 2.9-0.7 2.9-1.3 21.7-12.3 2.9-1.3 2.9-0.6 0.8 0.5 0.4 1.4-2.3 8.7 0.5 1.4 0.6 0.4 2.9-0.6 2.9-1.5 4.4-2.9 8.6-7.3 40.1-40.1 12.1-13 7.1-8.7 2.8-4.3 1.2-2.9 0.2-1.4-1.1-1.2-2.9 0.3-5.8 1.5-1.5 0-0.9-0.6-0.1-1.5 0.9-2.9 1.4-2.9 10.9-18.7 1.4-2.9 0.9-2.9 0-1.5-2.8-4.3-0.6-1.5-0.9-2.8-0.2-1.5 1-4.3 4.9-13 1.1-5.8-0.2-2.9-0.5-1.4-2.1-2.9-0.6-1.5-0.3-2.9 1.2-7.1 3.2-10.2 0.9-4.3-0.3-2.9-2.3-4.5-1-2.8-0.2-2.8 1-5.8 3.9-11.6 0.9-4.3-0.1-2.9-0.5-1.5-2.8-4.3-0.4-1.4-0.1-2.9 0.7-4.4 4.2-13 0.6-4.3-0.5-2.9-3.1-4.3-0.6-1.5-0.5-2.9 0.7-4.3 3.5-11.6 0.9-4.3zM481 394.9l-2.9 2.2-4.4 3.9-11.5 11.8-13.5 13-8.3 8.7-1.9 2.8 0.4 0.7 2.9-0.5 5.8-2.9 5.8-3.4 8.7-5.9 4.7-3.9 4-4 4.4-5.6 6.3-10.6 1.3-2.9 0.9-2.9-1.3-1.3zM357.8 289.5l-7.8 4.8-2.4 1.8-2.9 2.8-4.3 5.9-3.2 5.4-0.6 1.4 0.9 1 2.9-1.8 4.3-3.5 10.1-10.1 3.6-4.4 1.9-2.8-1.1-1.1z"/>
<path fill="#11bbc1" stroke-opacity="0.52" d="M393.7 44.3l0.8-1.4 7.7 0-2.4 4.6-2.4 2.6-1.9 1.2-1.5 0.2-1.4-1.1-0.2-1.8 0.8-2.8zM399.7 67.4l1.5-0.6 1.5-0.1 1.1 0.7 0.7 1.5-0.2 2.9-1.4 4.3-1.7 3.3-1.5 2.5-2.8 3.1-2.9 1.2-1.4 0-1.5-1-0.3-1.9 0.6-2.9 2.6-5.7 2.9-4.6 1.5-1.6zM399.2 97.8l2-1.1 2.9-0.1 1.5 0.6 1 2 0.1 2.9-1 4.3-4.1 11.6-0.8 2.9 0.4 1.6 1.5 0.8 4.3 1.2 0.9 0.7 1.2 1.5 0.9 2.9-0.3 4.3-2.8 10.1-0.6 4.3 0.1 1.5 0.6 1.6 1 1.3 3.4 3 0.6 1.3 0.3 2.9-0.9 7.2-2.8 10.1-0.1 2.7 1.1 1.7 3.2 2.4 2.9 3.3 0.6 1.5 0.1 1.5-0.4 2.8-3.1 10.2-0.4 2.8 0.2 2.9 0.9 1.5 0.7 0.3 5.8 0.4 1 0.7 0.8 1.5 0.5 4.3-0.1 2.9-0.5 2.9-2.3 7.2-0.2 1.5 0.8 1.5 8.7 4.4 1.1 1.3 0.4 1.4-0.1 1.5-1.6 8.6 0.3 5.8 0.5 1.5 0.8 0.9 2.9 1.2 1.5 1 0.6 1.2 0.8 3.3 2.2 3.9 0.7 4.4 0.8 1.4 3.6 2.7 2.2 3.1 3.6 2.9 2.9 5.1 4.2 3.5 1.6 2.2 3.4 2.2 3.8 4.3 3.2 1.5 4.1 3.9 4.3 1.7 2.9 3.2 4.4 1.5 2.9 2.1 1.4 0.5 7.2 0 7.3 2.1 1 0.9 0.6 1.4 0.2 2.9 1.1 1.7 2.9 0.1 14.5-2.7 2.9 0 1.4 0.7 1 1.6 2.5 7.3 0.9 1.3 1.4 0.4 1.5-0.2 8.7-3.2 2.9-0.7 4.3 0 2.9 0.8 1.5 1.4 1.2 4.5 1.7 1.4 1.4 0.1 4.4-0.5 11.6-2.7 2.9-0.3 2.9 0.7 2.1 1.3 3.7 3.3 1.4 0.9 1.5 0.3 2.8-0.4 10.2-2.8 4.3-0.7 2.9 0.1 2.9 1 1.2 1.2 2.5 4.3 0.7 0.5 1.4 0.4 4.4-0.7 10.1-3.2 2.9-0.5 2.9-0.1 1.5 0.4 1.4 0.9 0.6 0.9 0.5 2.9-0.8 2.9-1 1.4-3.4 2.9-10.4 6-5.8 2.5-4.3 1.2-2.9-0.1-1.5-0.7-2.9-5.2-1.4-0.6-1.5 0-5.8 1.9-14.4 6.4-4.4 1.1-2.9-0.1-1.4-0.5-2.2-1.8-1.4-2.9-0.8-0.8-1.4-0.3-1.5 0.3-7.2 3.1-17.9 9.3-5.3 2.1-1.5 0.1-1.6-0.8-0.6-2.9-0.7-1.6-1.4-0.5-2.9 0.5-4.4 2.2-8.7 6.4-8.7 7.6-14.5 14.2-7.2 6.2-4.3 2.8-1.5-0.1 0-1.5 1.5-3.7 5.8-12.2 0.9-2.9-0.1-1.5-0.8-0.6-1.5 0.5-5.8 5-18.8 19.7-7.3 7.1-11.6 10.6-15.1 12.6-4.3 4.4-1.1 1.4-0.2 1.5 1.9 0.1 2.9-0.6 2.9-0.8 2.9-1.3 14.5-7.8 1.4-0.4 1.4 0.6-0.8 1.5-3.2 4.3-3.9 4.4-13.3 13-16.8 17.3-14.1 16.3-2.9 2-2.9 1.2-2.9 1.2-2.9 0.7-1.4-0.1-1.7-1.1-0.9-2.9-0.1-2.8 1.3-4.4 5.2-10.1 1-2.9-0.5-1.1-1.4-0.2-4.4 0.3-7.2-0.4-1.5-0.5-0.6-1 0.1-2.9 2.9-10.1 1.4-5.8 0.3-2.8-1.2-1-5.8 0.7-1.4-0.4-0.9-0.8-2.7-7.2-0.8-5.9-0.9-1.3-2-1.7-2.8-4.1-3-2-0.8-0.9-1.8-4.4-3.2-2.9-2-4.3-3.6-2.9-2.9-4.3-2-1.4-3.8-4.4-4.5-2.3-2.9-3.5-4.1-2.8-2-2.9-1.2-0.8-4.3-1.1-3-2.5-4.3-2.6-0.8-1.7-0.6-3-0.7-1.3-0.8-0.8-2.9-1-2.9-0.1-8.6 1.9-1.5 0.1-1.4-0.4-1.1-1.2-0.4-1.4-0.7-5.8 0.2-4.3-0.4-1.5-0.5-0.3-2.9 0.6-7.3 3.2-4.3 1.5-4.4 0.3-2.9-0.4-1-0.6-0.8-1.4 0-1.4 3.1-10.2-0.1-1.4-1.2-0.8-2.9 0.7-11.1 5.9-6.3 2.7-2.9 0.8-1.4 0.1-1.9-0.7-1.8-2.9-0.4-1.5 0.1-1.4 1-2.9 2.3-2.9 11.3-8.7 19.9-13 4.3-2 1.4-0.2 0.7 0.8-0.8 2.9-5.7 11.5-0.4 2.9 0.4 0.6 1.5 0 1.4-0.6 2.9-1.7 5.8-4.2 5.8-4.9 15.9-14.7 12.8-13.5 33.1-33.2 16.1-17.4 4.7-5.7 2.9-4.4 2.1-4.3 0.2-1.5-0.8-1.2-2.9 0.4-7.3 2.2-1.4-0.4-0.5-1 0.2-1.4 1.1-2.9 2.4-4.3 5.5-9.1 7.4-11.2 2.5-4.3 1.2-2.9 0.3-1.4-0.9-1.5-3.3-1.2-1.8-1.7-1.1-2.4-0.1-1.9 1.6-5.1 7.3-15.1 1.6-5.8-0.2-2.9-1.3-1.4-3.2-1.5-1.3-1.4-0.3-1.5 0.3-3 1.2-4.2 1.7-4.3 6.3-13 1.6-4.4 0-1.4-0.7-0.9-4.3-1.2-1.5-0.8-1-1.5-0.3-1.4 0-1.5 1.2-4.3 3-6.3 4.4-7 2.9-3.4zM367.9 279.5l-7.2 3.8-8.7 5.3-5.7 4.2-4.5 4.4-5.5 7.2-6.2 10.1-3.6 7.2 0.1 1.5 0.7 0.1 4.4-2.7 8.7-7.1 18-17.8 5.2-5.7 5.5-7.3 1.7-2.9 0-0.3-1.4-0.5zM229.9 339.1l3.2-0.5 1.5 0.2 1.4 0.9 0.7 0.8 0.3 1.5-0.8 2.9-2 2.9-3.5 2.8-6.3 4.2-3.6 1.6-5.1 0.8-2.9-0.3-1.2-0.5-0.8-1.4 0.1-1.5 0.5-1.4 1.9-2.9 4.8-4.3 4.6-2.9 6.1-2.5zM163.5 342l1.5-0.3 1.5 0.2 0.9 1.5-0.2 2.9-0.7 1.5-1.5 1.4-1.4 0.8-10.2 4.8-2.9 1-1.4 0-1.5-0.7-0.6-1.6 0.1-1.4 0.5-1.6 1-1.3 1.9-1.6 11.6-5zM195 342l4.8-1.4 1.5 0.4 0.5 1 0 1.4-0.9 2.9-1.1 1.5-1.9 1.4-11.1 6.6-2.9 0.8-1.6-0.2-1.3-0.7-0.7-0.7-0.6-1.5 0-1.4 0.5-1.5 2.1-2.8 3-2.3 2.9-1.4 5.8-1.7zM94.1 343.4l2.8-0.6 1.5 0.3 1.1 1.8 0 1.4-1.3 2.9-1.4 1.4-2.8 1.7-2.9 0.9 0-8 2.9-1.7zM127.5 343.4l2.7-1.1 1.5-0.1 1.6 1.2 0.3 1.5-0.2 1.4-0.6 1.5-1.1 1.4-1.9 1.4-3.6 1.5-7.6 2.1-1.4 0.2-1.5-0.2-0.7-0.7-0.1-1.4 0.7-1.5 1.6-1.3 10.1-5.8zM664.1 343.4l3.8-0.7 1.5 0 1.4 0.5 0.9 1.7-0.1 1.4-0.7 1.5-1.1 1.4-3.6 2.9-4.9 2.9-5 2.1-2.9 0.7-1.4 0-1.5-0.9-0.4-0.5-0.2-1.4 0.6-2.9 1.5-2.1 2.7-2.2 4.5-2.5 4.4-1.7zM695.5 344.9l2.8-0.8 2.9 0 1.2 0.8 0.3 1.4-0.6 1.5-1.1 1.4-3.6 2.9-6.3 3-2.9 0.5-1.4-0.3-0.5-0.3-0.5-1.5 0.2-1.4 0.8-1.5 3.1-2.8 5.5-2.9zM404.3 499.5l4.2-1.2 2.9-0.2 0.9 1.4-0.5 2.9-3.3 7.2-4.6 7.2-4.1 7.4-1.4 1.7-1.5 1.1-1.4 0.6-2.9 0.1-1.5-0.4-1.4-0.9-0.8-0.9-0.3-1.5 0.5-2.8 4.6-11.6 2.3-4.3 2.4-3 1.4-1.2 1.4-0.7 2.9-0.9zM399.5 537.1l1.7-1 1.5-0.4 1.4-0.1 1.5 0.5 1.4 2.1 0.1 3.2-1 2.9-1.8 2.9-7.4 9.4-1.4 1-1.5 0.4-1.4-0.4-0.7-1.8 0.1-4.3 0.5-4.3 0.9-2.9 2.1-3.4 2.9-3.1zM399.6 571.7l1.6-0.9 1.5-0.3 1.4 0.4 1 2.3 0 1.4-0.5 2.9-1.2 2.9-2.2 3.1-2.8 2.9-1.5 0.9-1.4 0.4-1.5-0.3-1.4-1.9-0.3-2.2 0.5-2.9 1.2-2.5 1.5-2.2 2.9-3.1zM400 605l1.2-0.8 1.5 0 0.6 0.8 0.4 2.9-0.4 2.8-0.8 2.9-1.3 2.4-1.5 2-2.8 2-1.4 0.3-1.5-0.2-0.9-0.7-0.8-1.4 0-1.5 0.3-1.4 1.4-3 2.9-4 2.9-3zM400 636.8l1.2-0.8 1.5-0.2 1.2 1 0 1.4-2.7 9.2-1.4 3-1.4 1.7-1.5 1-1.4 0.5-1.5-0.1-1.2-0.8-0.5-1.5 0.2-1.4 1.2-2.9 4.7-8 1.4-2z"/>
<path fill="#1cc1b1" stroke-opacity="0.52" d="M399 200.4l2.2-1.1 1.5-0.3 1.4 0 1.4 1.4-0.5 2.9-2.9 5.7-3.7 5.7-2.9 3.2-5.1 4.1-6.8 4.4-5.5 2.7-1.4-1.3 1.5-2.9 4.2-6 7.3-9.4 5.8-6.4 2.9-2.4zM407.2 220.6l2.7-1 2.9-0.4 1.5 0.8 0.4 0.6 0.6 2.9 0 2.9-0.6 2.9-4.4 10.1-0.5 1.4-0.1 1.5 0.2 0.3 1.5 0.3 4.3-0.4 5.8 0.2 1.5 0.2 1.9 0.8 0.7 1.5-0.1 1.4-1.7 7.2-0.4 2.9 0.2 4.4 0.8 2.2 1 0.6 3.4 0.6 1.8 0.9 0.7 1.4 0.9 2.9 2.4 3.6 1.2 3.7 1 1.4 3.6 2.2 2.7 3.6 3.1 1.9 0.9 1 2.1 4.3 4.2 3.6 1.7 2.2 4.2 2.9 2.8 3.8 4 1.9 3.3 3.8 3.6 2 2.2 3.5 0.9 0.9 3.7 1.4 2.6 2.3 1.5 0.5 5.8-0.2 1.4 0.2 5.8 2.1 1.4 0.8 0.7 1.5-0.1 1.5-1 4.3 0.1 1.5 0.3 0.4 1.5 0.3 1.4-0.2 8-2 8-2.5 2.9-0.3 1.4 1.1 0.4 1.7-0.1 7.2-1.2 7.3 0.9 0.7 2.9-1 8.7-4.6 4.4-1.4 2.9-0.2 2.5 0.7 1.3 1.4 0 1.5-0.9 2.9-1.6 2.9-4.6 5.7-18.5 18.8-23.2 22.7-4.3 3-1.4-0.3-0.2-0.8 1.6-3.8 4.2-7.8 1.9-4.3 2.9-10.1-0.3-0.8-1.5 0.7-4.3 4-5.8 6.1-23.2 26.1-11.6 11.3-11.6 10.1-17.3 13.3-18.9 15.5-5.8 4.3-4.3 2.4-4.4 1.5-5.8 1.1-1.7-0.3-1-1.4 0.1-1.4 0.8-2.9 3-7.3 3.1-8.6 0.5-2.9-0.4-0.6-1.5-0.1-1.4 0.3-7.3 2.8-1.4 0.2-1.5-0.4-1.9-3.7-2-2.9-0.7-4.3-0.6-1.4-3.5-2.6-2-3.2-0.9-0.9-3.2-2-2.6-4.3-3.2-2.9-2.2-4.4-3.3-2.1-2.9-4.3-4.1-3.7-1.7-2.1-1.4-1-2.9-1.2-1.5-1.4-1.4-2.5-4.4-3.2-1.4-2.6-1.5-1.3-4.3-1.6-6.7-4.8-0.6-1.4-0.2-4.3-0.5-1.5-0.7-0.9-2.9-1.3-2.9-0.6-7.2 1.9-2.9 0.2-1-0.7-0.3-1.5 1.3-7.2 1.4-4.3 3.4-5.8 4.6-5.8 5.1-5.8 5.7-5.7 23.2-20.8 21-21.2 18-20.2 1.9-2.9 0.6-1.4-0.9-0.9-2.9 1.2-15.9 8.6-14.5 10.7-5.8 5-6.6 7.2-10 13-1.9 2.9-4.7 8.6-2.1 2.9-5.2 6.3-10.1 11.1-5.8 5.4-7.2 5.2-5.8 2.7-4.4 0.7-2.9-0.3-0.9-0.7-0.2-1.5 1.1-2.9 1.8-2.9 7.3-8.6 21.3-21.9 13.1-14.2 8.7-9 24.5-24.3 16.9-17.3 10.8-11.6 13-14.6 2.9-2.7 2.9-2.1 7.2-3.6zM435.1 448.9l2.4-0.9 0.3 0.9-9.3 10.1-20 18.5-5.8 4.8-2.9 1.9-1.4 0.5-1.5-0.6-0.3-2 0.6-2.9 2.3-4.3 5.1-5.8 6.6-5.7 8-5.8 15.4-8.4z"/>
<path fill="#2ec5a1" stroke-opacity="0.53" d="M401.4 229.3l2.7-1.2 1.5-0.1 1.3 1.3 0.3 2.9-0.4 2.8-1.1 2.9-2.4 4.4-3.1 4.3-3.3 3.8-5.8 5.4-7.2 5.6-7.3 4.7-10.1 5.6-4.4 2.8-18.8 15.7-5.5 5.5-13.4 15.9-11.6 15-5.8 5.4-5.7 6.6-2.9 2.8-2.9 2.3-2.9 1.7-3 0.9-0.5-1.4 1.6-2.9 3.3-4.4 26.1-29.4 10.1-10.6 46.4-46.4 16-15.2 4.3-3.7 4.3-3zM413.8 249.5l4.8-0.8 1.5 0.4 0.3 0.4 0.2 1.4-0.2 1.5-2.4 7.2-0.6 2.9-0.2 4.3 0.3 1.5 1.1 1 5.8-0.3 1.5 0.2 0.7 0.5 2.2 3.9 2.9 3 1.4 3.5 0.9 1.2 3.5 1.9 2.9 3.7 3.1 1.6 1.2 1.1 1.5 3.2 1.3 1.5 2 1.4 3.8 4.4 3 1.8 1 1.1 1.9 3.4 4.4 2.3 2.2 2.9 4.3 2.9 2.2 4.5 3.5 2.7 2.2 2.9 1.5 0.4 4.4-0.4 2.4 0 6.3 2.9 0.6 1.5-0.1 1.4-3.5 8.7-0.3 1.4 0.3 1.5 1.5 0 2.9-0.9 15.9-6.3 2.9-0.8 1.5 0.2 0.7 0.6 0.3 1.4-0.1 1.4-0.9 4.4-1.5 4.3-2.3 4.3-3.2 4.4-33.2 40.4-7.6 8.7-7 7.2-7.5 7.1-10.2 8.5-30.4 22.5-10.2 6.5-4.3 2-4.3 1.4-1.5 0.1-1.1-0.4-0.5-1.4 0.4-1.5 2.8-5.7 6.9-11.6 0.6-2.9-0.2-2.9-1.6-0.3-1.5 0.3-11.6 5.2-2.9 0.5-1.4-0.7-3.8-3.5-0.6-0.9-1-4.9-0.4-0.9-3.2-2-2.6-3.2-4.9-2.6-0.9-1.2-1.6-3.1-3.4-2.9-1.3-2.9-1-1.4-2.9-1.5-1.4-1.3-2-3-2.4-1.8-4.3-4.9-3.9-2-1.9-3.3-0.8-1-3.6-2.7-1.7-3.1-1.2-0.8-4.3-1.8-2.9-2.9-3-1.7-0.7-1.5-0.1-1.4 0.5-5.8-1.1-1.9-1.8-1-2.5-0.5-8.7 1.4-1.5-0.1-0.8-0.8 0-1.4 1.9-5.8 4.6-8.7 4.2-5.8 6.1-6.9 10.5-10.4 12.7-12.1 19.6-19.7 12.3-13 7.3-7.2 10.1-11.3 4.3-4.4 4.3-3.6 4.4-2.6 2.9-1.3 4.3-1.2zM460.7 377.9l-2.9 1.2-5.8 4.2-18.7 17.9-3.8 4.4-3 4.3-1.2 2.9 0.6 1 2.9-0.9 7.2-4.4 5.6-4.4 6-5.4 5.8-6.6 5.8-8 1.7-3.1 0.4-1.5-0.3-1.4zM525.2 352.1l2.1-0.6 1.6 0.6 0.1 1.4-2.4 4.4-12.1 14.4-7.5 7.5-4.3 3.5-1.1-0.9 1.1-2.9 4.3-7.7 4.4-6.4 6.2-7.5 3.9-3.5 2.9-2z"/>
<path fill="#45c98c" stroke-opacity="0.54" d="M391.3 242.3l1.3-0.6 1.4 0.3-0.4 1.7-2.6 4.4-2.6 2.8-11.8 10.2-8.5 5.7-3.1 1.6-0.7-0.1 0.4-1.5 5-5.7 5.9-5.8 8.3-7.3 7.2-5.7zM410.2 255.3l2.6-0.7 1.5 0.1 0.5 0.6 0.2 1.4-0.7 2.9-4 10.1-0.4 2.9 0.2 1.5 1.3 1 1.4 0.2 7.3-1.8 1.4-0.1 1.5 0.4 2.7 3.2 3.1 2.2 1.4 3.7 0.9 1.3 3.5 1.8 2.9 3.5 4.3 2.2 2.4 4 3.4 2.6 1.9 1.8 1 1.7 3.5 2.6 1 1.4 1.3 3.2 1.5 1 2.9 1.4 2.2 3.1 3.6 1.9 1.1 1 1.4 4.3 3.3 4.4 0.8 2.9 0.6 0.7 1.5 0.5 5.8-0.5 1.4 0.5 4.4 2.7 0.5 1.9-0.3 1.4-1.2 2.9-5.6 8.7-12.7 15.9-6.8 7.2-40.6 39.9-7.3 6.7-13 10.3-7.2 4.4-4.4 1.8-1.4 0.2-1.5-0.4-4.3-3.7-0.7-1.4-0.3-4.4-0.5-0.9-0.7-0.5-3.6-1.2-2.9-2.5-4.4-1.5-0.8-0.6-2.1-4-3.7-3.2-1.3-2.9-0.8-1.1-4.3-2.1-2.9-3.7-1.5-0.9-2.3-2.3-2-2.9-4.4-2.6-1.5-3.2-1-1.4-3.3-2.6-1.7-3.2-1.2-0.9-2.9-0.8-1.4-0.7-2.7-3.4-1.8-1.4-1.1-1.5-0.1-1.4 1.8-7.2 0.2-1.5-0.7-1.9-1.4-0.6-2.9-0.1-2.9 0.4-5.8 1.3-1.5-0.1-0.8-0.4-0.5-1.5 0.8-2.9 1.2-2.9 4.2-7.2 5.6-7.2 10.6-11.6 44.2-44.3 18.8-17.8 4.4-3.7 2.8-2 4.4-2.5 4.3-1.9zM503.2 342l3.8-1.2 1.5 1.2-0.5 2.9-0.9 2.9-2 4.3-2.6 4.3-9.2 13-7.8 10.1-12.7 15.9-7.5 8.7-11.9 11.8-14.5 12-11.6 8.3-8.7 5.8-7.2 4.3-5.8 2.9-4.4 1.9-2.8 0.6-0.9-1.3 0.4-1.5 1.6-2.9 2-2.9 6.5-8.6 3.8-4.4 2.8-2.9 5.5-4.6 21.3-15.6 7.7-6.6 5.8-6.7 13-18.2 15.2-19.1 3.7-3.6 4.5-3.6 5.6-3.7 5.8-3.3z"/>
<path fill="#5ccc76" stroke-opacity="0.54" d="M405.4 261.1l3.1-0.7 0.9 0.7 0 1.4-0.9 2.9-4.4 8.9-0.5 2.7 0.1 1.4 0.4 1.4 1.5 0.7 1.4-0.1 8.7-2.9 2.9-0.4 1.5 0.4 2.7 2.3 2.3 1.5 1.2 1.4 0.8 2.9 0.8 1.5 3.8 1.8 2.9 3.3 4.8 2.1 2.4 3.8 3.1 2 2.7 2.9 1.5 2.1 2.8 2.2 1.7 4.3 1.3 1.1 2.9 1.5 2.9 3.6 2.9 1.3 1.3 1.2 1 4.3 2.5 4.4 1 4.5 1.4 1 4.4 0.2 1.4 0.4 4.4 3.2 0.3 0.8 0 1.4-1.3 2.9-2.7 4.4-10.2 13-9.2 10.1-13.2 13.6-13 12.8-20.3 18.9-11.6 9.2-5.8 3.5-2.9 0.9-1.4-0.1-1.5-0.8-2.2-1.7-1.1-1.4-0.5-4.4-0.5-1.8-1.5-0.8-2.9-0.4-1.4-0.6-2.9-2-4.4-1-0.9-0.6-2-3.8-3.9-3.4-1.9-3.6-4.9-2.2-2.3-3-2.9-1.8-4.1-5.3-3.2-1.8-0.8-1.1-1-2.9-0.9-1.4-3.1-2.4-1.4-3.4-1.5-1.1-2.9-0.7-1.8-1.1-2-2.9-2-2.1-0.5-2.2 0.7-2.9 3.1-8.7 0.2-1.4-0.6-1.2-1.4-0.4-2.9 0.2-7.3 2.7-2.9 0.7-1.4 0-0.9-0.6-0.3-1.4 1-2.9 2.3-4.3 2.9-4.4 3.4-4.3 9.9-11.6 19.4-19.9 21.7-21.4 5.8-5.4 17.4-14.5 7.2-4.6zM497.8 349.2l2-0.6 0.9 0.6 0 1.4-2.2 5.8-4.6 8.7-4.6 7.2-5.3 7.2-17.3 21.7-9.7 10.1-10.8 9.7-8.1 6.2-7.9 5.6-10.1 6.1-8.1 2.8-2.1 0.4-1.4-0.1-0.3-0.3 0.1-1.5 0.7-1.4 1.7-2.9 2.2-2.9 3.9-4.3 4.7-4.4 7.2-5.7 14.6-10.6 7.2-6.2 6.7-7.8 10.7-15 13.1-15.5 7.2-7.4 4.4-3.6 4.3-2.9z"/>
<path fill="#7bcb5d" stroke-opacity="0.55" d="M400.8 266.8l1.9-0.5 0.9 0.5 0 1.5-8.8 20.2 0.7 1.2 13-6.9 2.9-1.3 2.9-0.9 1.4-0.1 1.5 0.5 2.1 1.7 2.6 1.5 1.3 1.4 1.2 4.4 1.5 0.8 2.9 0.8 1.4 1.2 1.5 1.9 1.4 0.8 2.9 0.8 1.4 0.9 1.6 2.9 5.7 4.1 1.5 2.8 2.9 2.4 0.5 0.8 1.5 4.3 0.9 0.8 2.9 1.5 2.9 4 2.9 1.3 1.1 1.1 0.5 1.4 0.4 4.4 1.7 2.9 0.4 1.4 0.2 2.9 0.6 1.4 0.9 0.6 5.1 0.9 3.6 4.1 0.3 1.7-0.3 1.4-1.4 2.9-7.2 10.1-9 10.1-12.3 13-15.1 14.9-17.4 15.9-8.7 7.1-4.3 2.9-2.9 1.6-2.9 0.5-1.4-0.6-2.9-2.1-0.9-1.2-0.4-1.4-0.2-4.3-1.4-1.1-4-0.4-3.3-1.8-4.3-0.4-2.2-0.7-0.7-0.8-1.5-3.2-2.9-1.8-1.3-1.4-1.6-3.1-1.4-0.9-2.9-0.8-1.5-0.9-2.4-3-1.9-0.9-1.9-1.9-2.5-3.8-3.4-2-0.8-1.5-0.9-2.9-0.7-1.1-2.9-2.6-1.4-4.1-1.2-0.8-3.2-0.7-1.4-0.8-1.7-2.9-2.3-2.9-0.3-1.4 0.3-1.4 1.7-4.4 5.9-10.1 5-7.2 0.5-1.5-0.4-0.2-13.1 8-8.7 4-2.9 0.6-1-0.8 0-1.5 1.1-2.8 1.7-2.9 8.7-11.6 7.6-8.7 16.7-17.4 24.7-23.6 13-10.4 5.8-4.2 2.9-1.7zM487.8 360.8l1.9-1.2 1.4 0.1 0.2 1.1-1.6 5.7-1.5 3.7-2.9 5-2.9 4.3-8.7 11.6-7.2 9-9.3 9.8-9.5 8.7-9.4 7.2-11 7.1-2.9 1.5-2.9 0.9-1.4 0.1-1.5-0.2-1.1-0.7 0.1-1.5 1.6-2.9 4.2-4.3 19.9-15.6 8.7-7.6 7.4-8.6 17.2-22.1 5.8-6.4 4.4-4z"/>
<path fill="#9ac946" stroke-opacity="0.55" d="M395.8 272.6l1.1-0.3 1.1 0.3 0.2 1.5-1.5 4.3-2.3 4.3-4 5.8-4.6 5.8-9.9 11.5-19.6 19.2-8.7 7.6-8.7 7-5.8 4.2-4.3 2.6-4.4 1.8-1.4 0.1-0.9-0.5 0.1-1.5 3.1-5.8 7.6-10.1 10.4-11.5 14.5-15 18.8-17.7 10.2-8.1 8.7-5.4zM411.1 284.2l2.1 0 2.5 1.9 2.9 1.5 1.1 0.9 1.2 4.3 0.6 0.7 4.4 1.1 1.4 0.9 1.5 1.7 1.4 0.8 2.9 0.7 1.5 0.7 2.1 3.6 0.8 0.7 2.9 1.5 2.1 2.1 0.8 1.8 3.1 2.5 0.8 1.5 0.7 2.9 0.7 1.4 3.4 1.9 0.9 1 1.4 2.9 0.6 0.6 2.9 1.4 0.8 0.9 0.4 1.4-0.2 4.4 0.2 1.4 1.4 2.9 0.3 5.8 1.4 0.6 4.4-0.3 1.4 0.4 0.9 0.7 1.6 2.9 0.6 1.5-0.1 1.4-1.9 4.3-5.2 7.3-10.1 11.5-12.4 13-12.5 12.2-16 14.3-7.2 5.7-2.9 1.8-2.9 1.4-1.4 0.3-1.5-0.2-3.8-2.2-0.7-1.5 0.6-5.8-0.4-1-1.5-0.5-4.3 0.2-4.4-1.6-4.3 0.3-1.7-0.3-1.2-1.2-1.7-3.1-2.8-1.4-1.3-1.2-1.8-3.2-1.1-0.6-2.9-0.7-1.5-0.7-2.9-3.5-1.4-0.6-2.6-2.5-1.8-3.1-2.9-1.5-1.3-1.2-1.6-4.9-2.9-3.2-0.7-3.5-0.7-1.4-4.7-1.5-1.1-1.1-1.5-2.7-1.6-1.9-0.4-1.5 0.2-1.4 1.1-2.9 2.5-4.4 3-4.3 9.4-11.6 9.3-10.1 17.1-17.3 11.6-10.8 7.3-5.9 5.7-4.2 4.4-2.7 4.3-2.1zM479 375.2l2-1.2 0.6 1.2-0.8 2.9-2.6 4.3-8.8 12.6-4.4 5.3-5.8 6.2-6.5 6.3-6.5 5.8-10.2 7.1-5.3 3-1.9 0.5-1.5-0.4 0.4-1.6 8.3-8.6 13.1-11.4 4.3-4.1 13.1-15 11.6-12.2z"/>
<path fill="#b8c432" stroke-opacity="0.56" d="M392.4 277l0.5 0 1.1 1.4-1 2.9-1.7 2.9-6.4 8.6-9.9 11.6-15.8 15.8-8.7 8.1-14.5 11.5-4.3 2.8-2.9 1.3-1.5 0.2-0.7-0.7 0.1-1.4 0.5-1.5 2.6-4.3 6.8-8.7 13.1-14.4 10-10.1 15.5-14.4 8.7-7 4.3-2.8 2.9-1.5zM406.1 288.5l2.4-0.7 1.4 0.1 6 3.5 0.7 1.4 0.6 3 1.4 1.3 4.4 0.4 1.4 0.8 1.9 1.8 5.4 1.4 1.2 1.5 1.2 2.8 3.4 2 2.4 2.4 0.5 1.4 1.4 1.4 2.2 1.5 0.8 1.5 0.5 2.9 0.8 1.4 3 1.7 1 1.2 1.2 2.9 0.7 0.7 3.3 2.2 0.3 1.4-0.5 5.8 1 4.3-0.7 5.8 0.9 1.5 7.3-1.4 1.4 0.7 0.5 0.7 1.4 2.8 0.1 1.5-0.3 1.4-1.4 2.9-3 4.4-8.5 10.1-10.7 11.5-12.9 12.6-10.1 9.3-10.2 8.3-5.8 3.6-2.9 0.6-2.8-1.1-1.5-1.4-0.3-1.5 0.2-1.5 1.6-5.7-1.5-1-5.8 0.9-4.3-0.8-5.8 0.6-1.5-0.2-1.2-1-1.7-2.9-3.3-1.4-1-0.9-1.5-2.6-0.8-0.9-5-1.4-2.9-3.7-1.4-0.7-2.9-2.7-1.8-3-4-2-0.6-0.9-0.9-4.3-2.4-2.9-0.5-1.1-0.5-4.7-0.9-1-4.4-1.1-0.7-0.8-3.3-5.8 0.1-1.4 1.1-2.9 4.7-7.2 7-8.7 10.6-11.6 15.3-15.4 10.2-9.5 11.5-9.4 7.3-4.5zM470.6 388.2l0.3 0 0 1.5-1.5 2.9-2.9 4.2-4.4 4.9-8.2 8.2-6.2 5.8-5.9 4.3-2.9 1.5-0.7-1.5 2.3-2.9 12.9-11.9 11.6-12.8 2.9-2.7 1.5-1z"/>
<path fill="#d2bf2e" stroke-opacity="0.56" d="M387.2 281.3l1-0.4 1.5 0 0.3 0.4-0.1 1.4-1.5 2.9-6.3 8.7-8.5 10.1-14.4 14.4-8.7 8-11.6 9.2-5.8 3.5-1.4 0.5-1.2-0.9 1.1-2.9 0.9-1.4 6.4-8.7 10.4-11.6 9.9-10.2 13.1-12.1 8.7-7 5.8-3.8zM401.7 292.8l3.9-1.4 1.4 0.3 4.9 2.6 0.9 0.9 0.8 3.4 0.7 1.6 1.4 0.4 4.4 0 1.4 0.7 1.5 1.3 1.4 0.7 2.9 0.4 2.1 0.7 0.8 1.2 1.5 3.5 2.9 1.6 2.4 2.4 0.5 1.4 4 2.9 0.6 1.5 0.2 2.8 0.7 1.5 3.2 1.5 1.1 1.4 0.9 2.9 0.9 1.1 2.9 1.8 0.4 1.4-1.1 7.2 0.2 4.4-1.9 7.2 0.6 1.4 1.8-0.2 4.3-1.6 2.9-0.7 1.5 0.5 0.6 0.6 0.9 1.4 0.4 1.5-0.5 2.9-2.6 4.3-6.9 8.7-7.8 8.6-13.1 13.1-8.7 8-8.7 7-5.8 3.8-2.9 0.8-2.4-0.9-1.6-1.4-0.2-1.5 2.6-7.2 0.4-1.4-0.3-1.1-1.4-0.1-7.2 2.2-4.4 0-7.2 1.2-1.5-0.2-0.8-0.6-2.1-3.2-2.9-0.9-1.4-0.9-2.1-3.6-0.8-0.5-4.4-0.6-0.6-0.4-2.3-3.4-1.9-0.9-1.1-1.5-1.3-1.1-1.5-2.6-1.4-0.9-3.1-1.2-0.8-1.4-0.7-4.3-2.1-2.9-0.4-1.5 0.1-4.3-0.3-0.7-0.7-0.7-0.7-0.3-2.9-0.4-1.5-0.8-3.1-5.8 0-1.4 0.4-1.5 3.3-5.7 6.8-8.7 9.2-10.1 11-11.2 13-12.5 8.7-7.3 7.2-4.9z"/>
<path fill="#eaba30" stroke-opacity="0.56" d="M382.9 285.6l2.4-0.6 0.4 0.6-0.3 1.5-0.8 1.4-5 7.2-7.2 8.7-13.2 13.2-7.2 6.8-7.3 5.8-7.2 4.8-1.5 0.5-1.2-0.7 1.2-2.9 4.1-5.8 10.1-11.6 8.3-8.7 9.4-8.7 8.7-7.3 5.8-4zM400.2 295.7l2.5-0.5 1.4 0.3 4.4 2 1.1 1.1 0.4 1.5 0.2 2.9 1.2 1.4 5.8-0.3 2.9 2 1.4 0.4 4.4 0.3 0.8 0.5 0.6 1 1 3.3 0.5 0.5 2.9 1.7 2.4 2.2 0.5 1.4 1.4 1.3 2.5 1.6 0.5 1.4 0 2.9 0.3 1.5 1.1 0.9 2.9 1.1 0.7 0.9 0.9 2.9 1.3 1.4 2.5 1.5 0.5 1.4-0.4 2.9-1.3 4.3-1.2 7.2-4.1 8.7 1.1 1.4 8.7-4.1 2.9-0.6 1.4 0.6 1 1.3 0.5 1.4 0 1.5-1.3 2.9-2.9 4.3-4.7 5.8-6.5 7.2-10.7 10.6-7.3 6.5-7.2 5.8-2.9 1.9-2.9 1.3-1.5 0.2-1.4-0.4-1.6-1.3-0.4-1.5 0.8-2.9 4.3-8.6 0.4-1.5-0.6-0.6-1.5 0.5-7.2 3.8-2.9 1.1-5.8 1.1-5.8 1.7-1.4 0.2-1.5-0.3-2.9-3.8-2.9-1-1.4-1.2-1.5-3.2-1.4-0.5-2.9-0.1-2.1-0.6-2.3-3.2-2.5-1.1-0.6-1.5-1.2-0.9-1.5-2.7-1.4-1-3.3-1.1-0.8-1.5-0.3-4.7-1.5-2.5-0.6-1.5 0.2-5.7-1-0.9-2.9-0.1-1.9-0.5-1.3-1.4-1.9-4.4-0.1-1.4 0.3-1.5 0.6-1.4 2.7-4.3 5.8-7.3 9.2-10.1 11.3-11.4 11.6-10.7 7.2-5.9 5.8-3.6z"/>
<path fill="#f6c233" stroke-opacity="0.56" d="M378.8 290l2.2-0.6 0.3 0.6-0.4 1.4-3.7 5.8-6 7.2-7 7.2-10.8 10.3-7.2 5.9-4.4 2.7-1.4 0.5-1.1-0.6 1.3-2.9 4.3-5.8 6.2-7.2 6.7-7 7.2-6.8 7.3-6.3 5.8-4.1zM395.7 300.1l2.7-1.2 1.4-0.1 5.8 2.3 0.4 0.4 0.4 1.5-0.5 4.3 0.7 1.4 1.9 0 4.3-0.7 1.5 0.4 1.4 1 1.5 0.6 4.3-0.3 2 0.5 0.9 1.4 0.6 2.9 0.9 1 2.9 1.4 2.4 2 0.5 1.7 1 1.1 2.4 1.5 0.5 1.4-0.3 4.4 0.3 1.4 0.4 0.4 3.7 1.1 0.7 0.6 1.4 3.5 3.5 1.6 0.7 1.5-1 4.3-5.4 13-2.8 4.4-7.7 10.1-4 4.3-4.9 4.3-10.3 7.4-4.3 2.6-13 5.5-2.9 0.7-1.5-0.3-1-1.4-0.4-1.5-1.3-1.4-3.4-1.4-1.1-3.6-0.8-0.8-2.1-0.1-2.9 0.4-1.7-0.3-2.7-3.3-2.9-0.9-0.2-1.6-1.2-0.9-0.9-1.9-1-1.5-4.3-1.4-0.6-1.5 0.1-5.8-1.6-2.9-0.1-1.4 0.9-5.8-1.2-0.8-4.4 0.5-1.4-0.2-1.2-0.9-1.7-4.4-0.2-1.4 0.3-1.4 2.4-4.4 4.4-5.8 9-10.1 8.7-8.9 10.2-9.4 5.8-5 5.8-4zM446.4 362.2l2.7-1 1.4-0.1 1.5 0.8 0.9 1.8 0 1.4-0.5 1.4-1.6 2.9-2 2.9-6.2 7.2-12.4 12.3-7.2 6.2-5.8 3.8-1.5 0.5-1.4 0.1-2.1-1.2-0.6-1.4 0.2-1.5 1.2-2.9 3.8-5.7 6.9-8.7 5.5-5.8 9.7-8 7.3-4.9z"/>
<path fill="#fdcc33" stroke-opacity="0.56" d="M374.7 294.3l1.9-0.5 0.3 0.5-0.5 1.4-2.8 4.4-3.6 4.3-5.5 5.8-9 8.7-5 4.2-4.3 3-1.5 0.5-0.8-0.5 0.4-1.5 1.9-2.9 5.9-7.2 5.5-5.8 6-5.7 5.8-5 4.3-3.1zM394.7 303l2.2-0.4 4.7 1.8 0.7 1.4-0.5 2.9-1.5 4.4 0.5 1.4 1.9-0.2 5.8-1.8 1.4 0.2 2.9 1.2 5.8-0.8 1.5 0.3 0.9 1.1 0.5 3 1.1 1.4 1.8 0.7 1.2 0.7 0.3 0.5 1.4 0.4 0.7 0.5 0.8 2.7 2.9 2.2 0.3 0.9-0.1 1.5-0.9 4.3 0.2 1.5 0.5 0.4 4.3 0.9 1.5 3.2 1.4 1 2.9 0.8 0.6 0.9-0.4 2.9-3.7 7.2-8.7 13-6.1 7.2-4.9 4.4-7.2 5.3-10.2 6.5-5.7 3-2.9 0.7-1.5-0.8-1-3.2-0.4-0.6-2.9-1.2-1-1.1-0.5-3-1.4-1.3-5.8 1.1-1.5-0.2-2.9-3.1-2.7-0.7 0.1-1.4-1.6-1.5-1.3-2.9-4.6-1.6-0.6-1.3 0.7-5.7-0.1-1.5-1.1-2.9 0.4-2.9 1.5-4.3 0-1.5-0.8-0.5-5.8 1.8-1.5 0.2-1.4-0.4-1.4-2.5-0.7-2.9 0.8-2.9 2.7-4.3 11.2-13 7.7-7.7 8.7-7.9 5.8-4.7 4.3-2.6zM444.4 366.5l2.1 0 1.4 1.5 0.2 1.4-0.4 1.5-2.8 4.3-5.1 5.8-8.9 8.7-5 4.4-4.4 2.9-1.4 0.6-1.5 0-1.1-0.7-0.6-1.5 0.2-1.4 0.6-1.4 1.7-2.9 4.7-5.8 6.1-6.5 7.3-6.5 5.8-3.9z"/>
<path fill="#f7dc2b" stroke-opacity="0.56" d="M368.8 300.1l2-1.3 0.8 1.3-0.7 1.4-2.3 2.9-7.9 8.3-8.7 7.7-3.1 1.3 0.1-1.4 3.2-4.3 8.1-8.7 7.6-6.6zM392.5 307.3l4.4 1.2 0.6 1.7-0.8 2.9-5.4 10.1 1.3 0.2 7.2-4.2 4.3-1.6 4.4 0.6 5.8-1.3 1.4-0.1 1.5 0.6 0.7 4.3 0.7 1 2.9 1.2 0.6 0.7 0.9 0.5 1.5-0.5 0.3 2.9 1.1 1.4 1.4 0.9 0.5 0.6 0.2 1.5-0.3 1.4-1.8 5.8 1.4 1.3 2.9-0.2 1.1 0.3 1.1 1.5 0.7 1.9 1.5 0.7 2.9 0.2 0.9 1.5-0.9 2.9-4.6 7.2-4.4 5.8-7.6 8.7-5.2 4.7-7.2 5.7-7.3 4.9-4.3 2-1.4-0.2-0.7-1.2-0.5-2.9-0.3-0.5-2.9-1.3-1-1.1 0-2.9-0.4-1.7-1.5-0.1-5.8 1.8-2.1 0-0.8-0.4-1.4-2-1.5-0.7-1.4-0.1-0.7-1.1-0.4-1.5-1.2-1.4-0.6-2-1.5-0.9-2.9-0.2-1.4-1.3 0-1.4 1.3-5.8 0-1.4-0.5-2.9 0.2-1.5 1.1-2.9 4.2-7.2 0.5-1.4-1-0.3-8.7 4.6-2.9 1-1.5-0.2-0.7-0.8-0.8-2.9-0.1-1.4 0.3-1.5 2.5-4.3 4.6-5.8 5.2-5.8 6.4-6.2 5.8-5.1 5.8-4.4 2.9-1.4zM439 373.8l1.4-0.3 1.2 0.3 0.2 1.4-2.8 4.3-8.8 8.5-2.9 2.1-1.4 0.6-1.4-1 1.1-2.9 1.9-2.9 5.6-6 2.9-2.3 2.9-1.8z"/>
<path fill="#f7ec20" stroke-opacity="0.56" d="M384.3 314.5l2.5-0.9 1.4-0.1 1.5 0.3 1.4 0.7 0.2 1.5-1.2 2.9-4.2 5.7-6.4 6.8-5.8 5.3-5.8 3.9-1.4 0.6-1.5 0-0.8-0.7-0.7-2.9 0.2-1.4 1.3-2.9 4.3-5.8 4.4-4.6 4.4-4.1 5.8-4.1zM407.9 321.7l3.5-1 1.4 0.2 0.7 0.8 0 4.4 0.7 1.4 2.8 1.5 0.2 1.5 2.9-1.8 0.4 0.3 0 2.9 1 1.4 1.8 1.5 0.1 1.4-0.4 1.4-4.3 8.7-0.1 1.5 5.8-1.7 1.5-0.1 0.6 0.3 1.8 2.9 4.8 0.6 0.4 0.8-0.3 1.5-0.8 1.4-2.7 4.4-8.6 10.1-4.4 4.3-5.3 4.6-5.5 4.1-3.2 1.8-1.5 0.5-1.4-0.1-0.4-0.8-0.2-2.9-0.6-1.4-2.7-1.4-0.3-1.5 1.7-5.8-0.4-0.4-1.4 0.3-7.3 3.6-2.9 1-0.7-0.1-0.7-0.3-1.5-2-1.4-0.7-1.5 0-0.7-1.4 0.9-1.4-0.2-0.6-1.4-0.5-1.5-2.6-1.4-0.5-2.9 0.2-1.5-0.3-0.6-1.5 0.7-2.9 2.1-5.8 0.7-4.3 0.6-1.4 2.3-3.8 4.1-4.9 9-8.9 5.8-4.5 2.9-1.4 4.3-0.7 4.3-1.5z"/>
<path fill="#f9fb15" stroke-opacity="0.56" d="M376.4 324.6l3.1-1.2 1.5 0.5 0.1 0.7-2 2.9-2.5 2.4-2.9 1.7-0.8-1.2 0.7-2.9 1.6-1.8zM404.6 326.1l2.4-0.9 1.5 0.1 0.6 0.8-0.1 1.4-1.2 4.4 0.2 1.4 2.3 1.5 0.2 1.4 0.9 0.2 2.9-2.1 1.1 0.5-0.1 2.8 0.4 0.9 1.5 0.9 0.5 1.1-0.3 1.5-1.5 2.9-3.1 4.3-7.2 8-7.2 6.3-4.4 3.1-2.9 1.4-1.9 0-1.1-1.5-1.3-0.8-2.9 0.2-0.4-0.8 2.1-2.9-0.3-1.1-1.3-0.3-0.7-1.5-0.9-0.8-1.4-0.1-4.4 1.1-1.4 0-0.3-0.2-0.3-1.4 0.3-1.5 2.2-4.3 2.8-4.3 3.2-4.4 3.8-4.3 7.1-6.3 4.4-3.1 5.7-3.4zM424 356.4l1.9-0.5 1.3 0.5-1.3 2.9-2.9 3.9-4.4 4.8-4.3 4.1-4.4 3.4-2.9 1.6-1.5-0.4 0.8-2.9 2.6-5.8-0.4-1-1.5-0.5 1.4-2.8 3-3.3 2.9-2.4 1.4-0.6 0.9 0.5 0.6 1.4 5.8-2.5z"/>
</g>
<rect x="108.5" y="60.2" width="579.7" height="578.0" fill="none" stroke="#1a1a2a" stroke-opacity="0.6" stroke-width="1.1"/>
<linearGradient id="cb1" x1="0" y1="0" x2="0" y2="1"><stop offset="0.0000" stop-color="#f9fb15"/><stop offset="0.0156" stop-color="#f8f519"/><stop offset="0.0312" stop-color="#f7ee1e"/><stop offset="0.0469" stop-color="#f6e823"/><stop offset="0.0625" stop-color="#f6e128"/><stop offset="0.0781" stop-color="#f8da2b"/><stop offset="0.0938" stop-color="#fad32f"/><stop offset="0.1094" stop-color="#fccc33"/><stop offset="0.1250" stop-color="#fdc635"/><stop offset="0.1406" stop-color="#f8c334"/><stop offset="0.1562" stop-color="#f3c033"/><stop offset="0.1719" stop-color="#eebd31"/><stop offset="0.1875" stop-color="#e8bb30"/><stop offset="0.2031" stop-color="#debd2f"/><stop offset="0.2188" stop-color="#d4bf2e"/><stop offset="0.2344" stop-color="#cac12d"/><stop offset="0.2500" stop-color="#bfc32d"/><stop offset="0.2656" stop-color="#b3c536"/><stop offset="0.2812" stop-color="#a6c73e"/><stop offset="0.2969" stop-color="#99c947"/><stop offset="0.3125" stop-color="#8dcb50"/><stop offset="0.3281" stop-color="#80cb5a"/><stop offset="0.3438" stop-color="#73cc64"/><stop offset="0.3594" stop-color="#66cc6e"/><stop offset="0.3750" stop-color="#59cc79"/><stop offset="0.3906" stop-color="#4fcb82"/><stop offset="0.4062" stop-color="#45c98b"/><stop offset="0.4219" stop-color="#3cc895"/><stop offset="0.4375" stop-color="#32c69e"/><stop offset="0.4531" stop-color="#2ac4a5"/><stop offset="0.4688" stop-color="#22c2ab"/><stop offset="0.4844" stop-color="#1ac0b2"/><stop offset="0.5000" stop-color="#13beb9"/><stop offset="0.5156" stop-color="#11bbbf"/><stop offset="0.5312" stop-color="#0fb9c6"/><stop offset="0.5469" stop-color="#0db6cc"/><stop offset="0.5625" stop-color="#0cb3d3"/><stop offset="0.5781" stop-color="#11afd7"/><stop offset="0.5938" stop-color="#16abdb"/><stop offset="0.6094" stop-color="#1ca7df"/><stop offset="0.6250" stop-color="#21a3e3"/><stop offset="0.6406" stop-color="#249ee7"/><stop offset="0.6562" stop-color="#2799ea"/><stop offset="0.6719" stop-color="#2995ed"/><stop offset="0.6875" stop-color="#2c90f0"/><stop offset="0.7031" stop-color="#2e8af3"/><stop offset="0.7188" stop-color="#3085f6"/><stop offset="0.7344" stop-color="#3180fa"/><stop offset="0.7500" stop-color="#337afd"/><stop offset="0.7656" stop-color="#3874fd"/><stop offset="0.7812" stop-color="#3c6efc"/><stop offset="0.7969" stop-color="#4168fc"/><stop offset="0.8125" stop-color="#4562fc"/><stop offset="0.8281" stop-color="#465df9"/><stop offset="0.8438" stop-color="#4657f6"/><stop offset="0.8594" stop-color="#4751f3"/><stop offset="0.8750" stop-color="#484cef"/><stop offset="0.8906" stop-color="#4747e9"/><stop offset="0.9062" stop-color="#4641e2"/><stop offset="0.9219" stop-color="#463cdb"/><stop offset="0.9375" stop-color="#4536d5"/><stop offset="0.9531" stop-color="#4332ca"/><stop offset="0.9688" stop-color="#412ebf"/><stop offset="0.9844" stop-color="#402ab3"/><stop offset="1.0000" stop-color="#3e26a8"/></linearGradient>
<rect x="719.5" y="60.2" width="37.5" height="578.0" fill="url(#cb1)" stroke="#262626" stroke-opacity="0.6" stroke-width="0.9"/>
<line x1="753.0" y1="112.0" x2="757.0" y2="112.0" stroke="#262626" stroke-width="1"/>
<line x1="753.0" y1="243.2" x2="757.0" y2="243.2" stroke="#262626" stroke-width="1"/>
<line x1="753.0" y1="374.6" x2="757.0" y2="374.6" stroke="#262626" stroke-width="1"/>
<line x1="753.0" y1="506.0" x2="757.0" y2="506.0" stroke="#262626" stroke-width="1"/>
<text transform="translate(93.6,70.3) scale(0.972,1)" font-size="40.4" text-anchor="end" >5</text>
<text transform="translate(93.6,360.0) scale(0.972,1)" font-size="40.4" text-anchor="end" >0</text>
<text transform="translate(93.6,649.3) scale(0.972,1)" font-size="40.4" text-anchor="end" >-5</text>
<text transform="translate(108.4,689.6) scale(0.972,1)" font-size="40.4" text-anchor="middle" >-5</text>
<text transform="translate(399.0,689.6) scale(0.972,1)" font-size="40.4" text-anchor="middle" >0</text>
<text transform="translate(688.6,689.6) scale(0.972,1)" font-size="40.4" text-anchor="middle" >5</text>
<text transform="translate(770.0,124.5) scale(0.972,1)" font-size="40.4" text-anchor="start" >0.2</text>
<text transform="translate(770.0,255.8) scale(0.972,1)" font-size="40.4" text-anchor="start" >0.15</text>
<text transform="translate(770.0,387.2) scale(0.972,1)" font-size="40.4" text-anchor="start" >0.1</text>
<text transform="translate(770.0,518.0) scale(0.972,1)" font-size="40.4" text-anchor="start" >0.05</text>
<text x="345.0" y="747.4" font-size="42.0" text-anchor="start" textLength="117" lengthAdjust="spacingAndGlyphs">y (<tspan font-style="italic">μ</tspan>m)</text>
<text transform="translate(35.4,401) rotate(-90)" font-size="42.0" textLength="112.5" lengthAdjust="spacingAndGlyphs">z (<tspan font-style="italic">μ</tspan>m)</text>
<text transform="translate(892.7,504.5) rotate(-90)" font-size="40.4" textLength="311" lengthAdjust="spacingAndGlyphs">Intensity (rel. un.)</text>
<circle cx="847.3" cy="736.3" r="24.2" fill="#fff" stroke="#333" stroke-width="1.3"/>
<text x="847.3" y="746.0" font-size="39.0" text-anchor="middle" fill="#111">a</text>
<clipPath id="cp2"><rect x="1056.0" y="57.2" width="579.3" height="578.2"/></clipPath>
<rect x="1056.0" y="57.2" width="579.3" height="578.2" fill="#3e26a8"/>
<g clip-path="url(#cp2)" stroke="#000" stroke-width="1.9" stroke-linejoin="round" filter="url(#bl)">
<path fill="#4230c3" stroke-opacity="0.45" d="M1233.6 53.2l224.1 0-0.1 40.7 0.3 47.2 0.5 21.2 1 14.7 0.8 6.5 1.3 7 1.5 6 1.6 4.9 2.2 4.9 2.8 4.8 2.4 3.3 3 3.3 3.8 3.2 3.9 2.7 4.1 2.2 4 1.7 4.9 1.7 6.1 1.5 7 1.2 6.5 0.8 14.7 1 21.2 0.6 47.3 0.3 40.8-0.1 0 223.6-42.4-0.1-50.6 0.3-19.6 0.5-14.6 0.9-6.6 0.8-6.5 1.1-6.5 1.6-4.9 1.5-4.9 2.1-3.3 1.8-4.6 3.1-3.5 3-3.3 3.5-2.3 3.3-2.6 4.3-2.4 5.4-2.6 8.2-1.5 7-1.2 7.6-1.5 17.9-0.7 17.9-1.2 89.6-212.7 0-1.1-89.6-0.6-17.9-1.4-19.5-2.4-14.7-1.3-4.9-1.6-4.8-2.1-4.9-2.7-4.9-2.8-3.9-3.3-3.5-3.2-2.9-4.9-3.3-4.9-2.4-4.8-1.9-5-1.6-4.9-1.1-14.4-2.2-18.2-1.2-18-0.6-89.7-1.1 0-212.4 89.7-1.1 18-0.7 16.3-1.3 6.5-0.9 8.2-1.6 4.9-1.3 4.9-1.7 4.9-2.2 3.4-1.9 4.7-3.2 3.3-3 3.1-3.5 2.3-3.3 2.7-4.9 1.7-3.8 1.6-4.7 1.6-6.1 1.2-6.5 0.8-6.6 1.1-14.6 0.5-19.6 0.3-52.1-0.1-40.7z"/>
<path fill="#453ada" stroke-opacity="0.45" d="M1254.6 53.2l182.1 0 0 42.3 0.6 58.7 0.7 21.1 1.2 14.7 1.1 7.4 1.5 7.2 1.7 6.2 2 5.2 2.3 4.9 2.9 4.9 3.6 4.9 3.9 4.2 4.5 3.9 4.6 3.3 4 2.3 5.6 2.6 5.8 2 6.5 1.8 6.5 1.2 8.2 1.1 14.7 1.1 21.2 0.6 57.1 0.6 42.4 0 0 181.8-42.4 0-63.6 0.6-19.6 0.6-14.7 1.2-8.2 1.2-6.5 1.3-6.5 1.9-4.9 1.8-4.9 2.3-4.9 2.8-4.9 3.5-4.7 4.3-3.4 3.7-3.2 4.4-2.9 4.9-2.3 4.9-1.8 4.9-1.8 6.5-1.4 6.5-1 6.5-1.4 13-0.9 17.9-0.7 35.9-0.3 45.5-0.2 8.2 0 9.8-0.2 8.1-172.7 0-0.2-8.1 0-9.8-0.2-8.2-0.3-45.5-0.7-35.9-0.7-17.9-1.6-16.3-1-6.5-1.7-8.1-1.4-4.9-2.1-5.6-2.8-5.8-3-4.9-3.8-4.9-3.1-3.2-3.7-3.3-4.8-3.4-4.9-2.8-4.9-2.2-4.9-1.8-4.9-1.4-8.1-1.7-8.2-1.3-14.7-1.3-17.9-0.8-35.9-0.6-45.7-0.3-8.2-0.2-9.7 0-8.2-0.2 0-172.4 8.2-0.2 9.7 0 8.2-0.2 45.7-0.3 35.9-0.7 17.9-0.9 13.1-1.4 6.5-1 6.5-1.4 6.5-1.8 4.9-1.8 4.9-2.3 4.9-2.8 4.4-3.2 3.8-3.4 4.3-4.8 3.5-4.8 2.8-4.9 2.3-4.9 1.8-4.9 1.8-6.5 1.4-6.5 1.1-8.2 1.2-14.6 0.7-19.6 0.6-63.5 0-40.7z"/>
<path fill="#4747e9" stroke-opacity="0.46" d="M1268.5 53.2l154.3 0 0 45.6 0.8 70 0.9 19.6 0.9 9.7 1 6.5 1.8 8.2 2.6 8.1 3.6 8.2 4.2 7.4 4.1 5.6 4.6 4.9 5.9 4.9 5 3.2 9.8 4.8 4.9 2 4.9 1.6 5.6 1.4 5.8 1.1 13.1 1.5 13 0.8 21.2 0.4 62 0.6 40.8 0 0 154-40.8 0-65.2 0.6-19.6 0.4-13.1 0.7-13 1.5-6.6 1.2-6.4 1.6-5.1 1.7-6.4 2.5-5.2 2.4-4.6 2.4-5.9 4.1-5.5 4.9-4.2 4.8-3.4 4.9-3.8 6.9-3.3 7.4-2.2 6.9-1.7 8.1-1.5 9.8-1.1 14.6-0.8 21.2-0.5 35.9-0.6 71.6-146.3 0-0.6-71.6-0.5-35.9-0.6-19.5-1.5-19.6-1.5-9.7-1-4.9-1.8-6.5-2.6-7-2.8-6-3.7-6.7-3.3-4.7-4.5-4.9-3.7-3.3-4.6-3.2-6.7-3.7-6.5-3-6.6-2.4-6.5-1.8-6.5-1.3-9.8-1.4-18-1.3-19.5-0.6-35.9-0.5-71.8-0.6 0-146 71.8-0.6 35.9-0.5 21.2-0.8 14.7-1.1 9.8-1.5 8.1-1.7 6.9-2.2 7.5-3.3 6.8-3.8 4.9-3.4 4.9-4.2 4.9-5.4 4.1-6 2.4-4.6 2.4-5.1 2.5-6.5 1.6-5 1.7-6.4 1.2-6.6 1.5-13 0.7-13 0.4-19.6 0.6-65.1 0-39.1z"/>
<path fill="#4754f4" stroke-opacity="0.46" d="M1275.7 53.2l139.9 0 0 45.6 0.7 78.2 0.9 22.8 0.7 8.1 1.2 8.9 1.6 8.6 1.6 5.7 1.7 4.4 1.5 3.3 2.8 4.9 3.8 5.2 5.6 6.2 5.8 5.2 6.6 4.6 6.5 3.2 4.4 1.7 5.8 1.6 12.6 2.2 14.7 1.4 14.7 0.6 19.6 0.4 71.7 0.5 39.2 0 0 139.6-39.2 0-75 0.5-19.6 0.4-14.7 0.7-14.6 1.5-11.1 2-5.8 1.6-4.5 1.7-4.7 2.1-5 2.7-6.5 4.5-4.5 3.7-5.2 5.5-4.3 5.9-2.3 4.1-1 2.4-2.2 6.4-1.7 7.1-1 6-0.9 6.6-1.2 13-1 19.5-0.6 35.8-0.8 89.6-132.5 0-0.7-89.6-0.6-34.2-0.9-19.5-1.4-16.3-0.9-6.5-1.5-8.1-1.2-5.1-2.2-6.3-2.7-5.7-3.2-5.3-4.2-5.3-3.1-3.3-4.1-3.7-4.9-3.6-4.9-2.8-6.3-2.9-5-1.6-6.7-1.6-13-2-16.3-1.4-19.6-0.8-34.3-0.6-89.7-0.7 0-132.4 89.7-0.7 35.9-0.7 19.6-0.9 13-1.2 6.6-0.9 6.1-1 7.1-1.7 6.3-2.2 2.5-1 4.1-2.3 5.8-4.2 5.6-5.3 3.7-4.5 4.4-6.4 2.8-5 2.1-4.8 1.7-4.4 1.6-5.8 2-11.1 1.5-14.6 0.7-14.7 0.4-19.5 0.5-73.3 0-39.1z"/>
<path fill="#4561fc" stroke-opacity="0.47" d="M1282.2 53.2l126.9 0 0 42.3 0.8 78.2 0.9 22.8 1.5 16.3 1.7 11.4 2.4 11.4 2.2 8.1 2.1 5.9 3.1 5.5 3.4 4.4 5.4 5.4 4.4 3.4 4.9 2.8 3.3 1.3 4.9 1.6 6.5 1.7 9.8 2 8.1 1.4 8.2 1.1 9.8 0.9 14.7 0.7 19.5 0.5 71.8 0.6 40.8 0.1 0 126.6-39.2 0.1-75 0.6-19.6 0.5-14.7 0.7-9.7 0.9-8.2 1.1-8.2 1.4-9.7 2-6.6 1.7-4.9 1.6-4.9 2.2-3.5 2.1-6.8 4.8-4.3 4.1-3.3 3.9-1.6 2.9-2.7 7.1-2.8 9.7-2.2 9.8-1.9 11.4-1.6 17.9-0.9 19.5-0.6 34.2-0.6 89.6-120.3 0-0.6-89.6-0.6-34.2-0.8-19.5-1.3-16.3-1.7-11.4-1.6-8.1-2.5-9.8-2.5-7.9-1.7-3.8-1.6-2.8-3.3-4-4-4.3-7.5-6.5-2.8-1.6-5.2-2.1-8.2-2.5-9.8-2.4-9.8-1.8-9.8-1.3-16.3-1.3-16.3-0.6-17.9-0.4-107.7-0.9 0-120 89.7-0.7 34.3-0.6 19.6-0.8 17.9-1.7 11.4-1.8 9.8-2.2 9.8-2.8 7.1-2.7 2.9-1.6 2.1-1.6 2.6-2.5 3.7-4 4.4-6.3 2.1-3.5 2.2-4.9 1.6-4.9 1.7-6.5 2-9.8 1.4-8.1 1.1-8.2 0.9-9.7 0.8-14.7 0.4-19.5 0.7-73.3 0-39.1z"/>
<path fill="#3b6ffd" stroke-opacity="0.48" d="M1287.9 53.2l115.5 0 0 40.7 0.9 79.8 0.7 21.2 1.2 16.2 1.3 9.8 1.8 9.8 2.3 9.8 3 9.7 2.8 7.7 3.3 7 2.5 3.2 1.7 1.7 2.3 1.6 4.9 2.4 8.2 3.1 6.5 2.2 7.6 2.1 7.2 1.6 9 1.6 8.8 1.2 8.2 0.9 14.7 0.8 19.5 0.5 78.3 0.8 39.2 0.1 0 115.2-39.2 0.1-79.9 0.8-19.6 0.5-14.7 0.8-8.1 0.9-9.8 1.3-8.2 1.5-8.1 1.9-6.5 1.8-8.2 2.8-8 3.3-3.4 1.8-3.3 2.5-3.2 3.7-4.7 8.3-2.1 4.8-2.8 8.2-2.2 8.1-2 9.8-1.6 11.4-1.5 17.9-0.7 17.9-0.6 35.8-0.6 89.6-109.3 0-0.6-89.6-0.6-35.8-0.6-17.9-1.2-16.3-1.1-8.5-1.6-9.8-2.1-9.4-2.5-8.1-2.4-6.5-4.3-8.2-1.8-2.8-3.2-3.8-3.7-3.1-2.9-1.8-8.1-4.2-6.5-2.5-8.2-2.4-9.3-2.2-9.9-1.6-8.5-1-16.3-1.2-18-0.7-35.9-0.6-89.7-0.6 0-109 89.7-0.7 35.9-0.5 18-0.7 17.9-1.5 11.4-1.7 9.8-2 8.2-2.1 8.1-2.8 4.9-2.2 8.3-4.6 3.7-3.2 2.5-3.3 1.8-3.4 3.3-8 2.8-8.1 1.8-6.5 1.9-8.2 1.5-8.1 1.4-9.8 0.8-8.1 0.9-14.7 0.5-19.5 0.8-79.8 0-37.5z"/>
<path fill="#327dfb" stroke-opacity="0.48" d="M1293 53.2l105.3 0 0.1 39.1 0.9 83 0.7 21.2 1.1 15.3 1.6 12.4 1.7 9.4 1.9 8.5 2.3 8.1 3.9 10.3 3.6 7.6 2.1 3.3 1.5 1.6 2 1.7 5.5 2.9 8.2 3.5 6.5 2.3 6.5 2 8.2 1.9 9.8 1.8 9.8 1.4 8.1 0.8 16.3 1 19.6 0.5 79.9 0.9 39.2 0.1 0 105-39.2 0.1-81.5 0.9-19.6 0.5-16.3 1-8.2 0.9-9.8 1.3-9.7 1.8-8.2 2-6.5 1.9-6.6 2.4-8.1 3.5-4.9 2.7-2.1 1.8-2.8 3.4-4.9 7.9-2.7 5-1.5 3.2-2.3 7.1-2.3 9.2-1.9 9.8-1.5 11.4-1.4 17.9-0.7 19.5-0.6 35.8-0.2 45.6-0.2 8.2 0.1 9.7-0.2 8.2 0.1 9.8-0.2 8.1-99.5 0-0.2-8.1 0.1-9.8-0.2-8.2 0.1-9.7-0.2-8.2-0.2-45.6-0.5-35.8-0.6-17.9-1.4-19.5-1.5-11.4-1.4-8.2-2.2-9.7-2.4-7.7-1.6-3.7-4.5-8.2-4.1-6.5-2.9-3.2-2.2-1.7-5.9-3.7-6.5-3.6-3.3-1.6-4.9-1.8-8.2-2.2-8.1-1.8-8.2-1.3-11.4-1.4-17.9-1.2-18-0.6-35.9-0.5-45.7-0.2-8.1-0.2-9.8 0.1-8.2-0.2-9.7 0.1-8.2-0.2 0-99.4 8.2-0.2 9.7 0.1 8.2-0.2 9.8 0.1 8.1-0.2 45.7-0.2 35.9-0.5 19.6-0.7 17.9-1.4 11.5-1.6 9.7-1.8 9.3-2.3 7.1-2.4 3.2-1.4 5-2.7 7.9-4.9 3.4-2.8 1.8-2.1 2.8-4.9 3.4-8.1 2.4-6.5 2-6.6 1.9-8.1 1.8-9.8 1.4-9.7 0.8-8.2 1-14.6 0.5-19.6 0.9-83 0.1-37.5z"/>
<path fill="#2e8af3" stroke-opacity="0.49" d="M1297.9 53.2l95.5 0 0.2 37.5 1.1 84.6 0.7 21.2 1 14.6 1.3 11.4 1.8 11.2 1.6 8.4 2.1 8.1 2.8 8.3 3.3 8 3 4.9 2.9 3.3 5.5 5.1 3.3 2.1 4.9 2.3 9.3 3.5 7 2 9.8 2.2 11.4 2 11.4 1.4 16.3 1.3 21.2 0.7 86.5 1.2 37.5 0.1 0 95.4-37.5 0.1-84.9 1.1-17.9 0.5-14.7 0.8-9.8 1-9.8 1.3-9.7 1.6-8.2 1.7-8.2 2.2-8.1 2.9-6.3 2.6-3.5 2.1-3.3 2.8-6.2 6.5-4.4 6.5-4.3 8.2-1.9 4.8-2.2 8.2-2.2 11-1.3 8.5-1.2 11.4-1.1 14.7-0.7 19.5-0.3 17.9 0 9.8-0.2 8.1 0.1 9.8-0.3 8.2 0.1 9.7-0.2 8.2 0.1 9.7-0.3 8.2 0.2 9.7-0.3 8.2 0.2 9.8-0.3 8.1-90.1 0-0.3-8.1 0.2-9.8-0.3-8.2 0.2-9.7-0.3-8.2 0.1-9.7-0.2-8.2 0.1-9.7-0.3-8.2 0.1-9.8-0.2-8.1 0-9.8-0.3-8.1 0-9.8-0.6-17.9-1.5-21.2-1.4-11.4-1.7-9.7-1.8-8.2-2.2-7.7-4.2-8.6-3.9-6.5-2.4-3.2-3.1-3.3-4.4-4.2-3.2-2.4-6.6-3.9-8.1-4-6.5-2-9.8-2.2-9.8-1.6-11.4-1.4-21.2-1.6-18-0.6-9.8 0-8.1-0.3-9.8 0.1-8.2-0.3-9.8 0.1-8.1-0.2-9.8 0.1-8.2-0.3-9.8 0.2-8.1-0.3-9.8 0.2-8.2-0.3-9.7 0.2-8.2-0.3 0-90 8.2-0.3 9.7 0.2 8.2-0.3 9.8 0.2 8.1-0.3 9.8 0.2 8.2-0.3 9.8 0.1 8.1-0.2 9.8 0.1 8.2-0.3 9.8 0.1 17.9-0.4 19.6-0.7 14.7-1 11.4-1.3 8.6-1.3 11-2.2 8.1-2.2 4.9-1.8 8.2-4.4 6.5-4.3 6.5-6.2 2.8-3.3 2-3.3 2.1-4.8 3-8.2 2.4-8.1 1.7-8.2 1.7-9.7 1.4-9.8 1-9.8 0.9-14.6 0.5-19.6 1.1-84.6 0.2-35.9z"/>
<path fill="#2896ec" stroke-opacity="0.49" d="M1303.3 53.2l84.7 0 0.2 37.5 1.6 84.6 0.6 17.9 1 14.7 1.1 9.8 2.2 14.6 1.8 9.8 1.9 8.1 2.7 8.9 2.7 7.4 2.8 4.9 2.8 3.3 8.2 8.1 3.1 2.7 3.3 2 4.3 1.8 10.3 3.4 9.8 2.5 13.1 2.4 14.7 2.1 16.3 1.6 21.2 0.9 88.1 1.6 37.5 0.3 0 84.4-37.5 0.3-83.2 1.5-18 0.5-14.7 0.9-9.7 1-13.1 1.9-11.4 1.9-8.2 1.7-6.8 1.8-9.5 3.1-4.9 2.2-3.2 2.2-10.8 10.4-2.8 3.3-4 6.5-3.3 6.5-2 4.9-1.7 6.5-2.5 11.4-1.6 9.8-1.6 11.4-1.3 16.3-0.8 19.5 0 9.8-0.4 8.1 0.1 9.8-0.3 8.1 0.1 9.8-0.3 8.2 0.2 9.7-0.4 8.2 0.2 9.7-0.3 8.2 0.2 9.7-0.3 8.2 0.2 9.8-0.3 8.1-79.5 0-0.3-8.1 0.2-9.8-0.3-8.2 0.2-9.7-0.3-8.2 0.2-9.7-0.4-8.2 0.2-9.7-0.3-8.2 0.1-9.8-0.3-8.1 0.1-9.8-0.3-8.1 0-9.8-0.7-17.9-1.4-17.9-1.7-13-1.7-9.8-2-9.8-2.2-8.1-3.8-8.2-3.6-6.5-2.2-3.2-3.4-3.7-8.1-8.1-3.3-2.6-6.5-3.7-8.2-4-4.9-1.6-9.8-2.3-11.4-2.1-11.4-1.7-6.5-0.7-14.7-1.1-19.6-0.8-9.8 0-8.1-0.3-9.8 0.1-8.2-0.4-9.8 0.2-8.1-0.4-9.8 0.2-8.2-0.3-9.8 0.2-8.1-0.3-9.8 0.2-8.2-0.3-9.7 0.2-8.2-0.3 0-79.4 8.2-0.3 9.7 0.2 8.2-0.3 9.8 0.2 8.1-0.3 9.8 0.2 8.2-0.3 9.8 0.2 8.1-0.4 9.8 0.2 8.2-0.4 9.8 0.1 8.1-0.3 9.8 0 19.6-0.9 16.3-1.3 11.4-1.5 9.8-1.7 11.4-2.4 6.6-1.8 4.9-1.9 6.5-3.3 6.5-4 3.3-2.8 10.5-10.8 2.1-3.2 2.2-4.9 3.1-9.5 1.8-6.8 1.8-8.1 1.9-11.4 1.8-13.1 1-9.7 0.9-13.1 0.6-17.9 1.5-84.6 0.2-35.9z"/>
<path fill="#22a2e4" stroke-opacity="0.50" d="M1309.5 53.2l72.3 0 0.3 37.5 2 84.6 0.9 19.6 1.3 14.6 2.2 14.7 3.1 16.3 2.8 11.4 3.4 11.4 1.9 4.8 1.7 3.3 2.6 3.3 6.3 6.5 7.1 6.9 3.3 2.6 3.3 1.7 4.7 1.8 11.6 3.5 11.4 2.7 16.3 3.2 13.1 1.9 14.6 1.4 19.6 0.9 86.5 2.1 37.5 0.3 0 72.2-37.5 0.3-83.2 1.9-16.3 0.6-14.7 1-9.8 1.2-11.4 1.7-13.1 2.5-11.4 2.6-9.5 2.6-6.8 2.2-4.9 2.2-2.9 2.1-8.5 7.9-6.6 6.9-2.3 3.1-4.6 8.1-3.8 8.2-2 6.5-2.9 11.4-2.5 13-1.7 11.4-1.2 14.7-0.9 19.5 0 9.8-0.4 8.1 0.2 9.8-0.5 8.1 0.2 9.8-0.4 8.2 0.3 9.7-0.4 8.2 0.2 9.7-0.3 8.2 0.2 9.7-0.3 8.2 0.2 9.8-0.3 8.1-67.7 0-0.3-8.1 0.2-9.8-0.3-8.2 0.2-9.7-0.3-8.2 0.2-9.7-0.4-8.2 0.3-9.7-0.4-8.2 0.2-9.8-0.4-8.1 0.1-9.8-0.4-8.1 0.1-9.8-0.8-17.9-1.7-19.5-2-13.1-1.6-8.1-2.4-9.8-2.4-8.1-3.8-8.2-4.3-8.1-3-4.1-6.6-7-7.2-6.8-4.2-3.1-8.2-4.3-8.1-3.7-8.2-2.5-9.8-2.3-8.1-1.6-13.1-2-19.5-1.7-18-0.8-9.8 0.1-8.1-0.4-9.8 0.1-8.2-0.4-9.8 0.2-8.1-0.4-9.8 0.3-8.2-0.4-9.8 0.2-8.1-0.3-9.8 0.2-8.2-0.4-9.7 0.3-8.2-0.3 0-67.6 8.2-0.3 9.7 0.3 8.2-0.4 9.8 0.2 8.1-0.3 9.8 0.2 8.2-0.4 9.8 0.3 8.1-0.4 9.8 0.2 8.2-0.4 9.8 0.1 8.1-0.4 9.8 0 19.6-0.8 14.7-1.3 11.4-1.7 13-2.5 11.5-2.8 6.5-2.1 8.1-3.8 8.2-4.5 3.1-2.4 6.9-6.5 8-8.5 2-2.9 2.2-4.9 2.3-6.8 2.6-9.5 2.6-11.4 2.4-13 1.8-11.4 1.2-9.8 0.9-14.6 0.6-16.3 2-83 0.3-35.9z"/>
<path fill="#16abdb" stroke-opacity="0.51" d="M1315.9 53.2l59.5 0 0.4 35.8 2.5 89.6 0.9 17.9 1.4 14.6 2.2 13.1 4 17.9 3.3 11.4 4.4 13 1.4 3.3 1.9 3.2 4.9 5.9 5.2 5.5 5.3 4.9 5.9 4.9 3.2 2 3.3 1.4 13 4.3 11.5 3.3 17.9 4 13.1 2.2 14.6 1.4 18 0.9 89.7 2.5 35.9 0.4 0 59.4-35.9 0.4-48.9 1.5-37.6 0.9-17.9 0.7-13.1 1-9.7 1.3-9.8 1.8-13.1 2.7-9.8 2.5-8.1 2.5-11.4 3.9-3.5 1.6-4.5 3.2-6.7 5.8-4.2 4-5.6 6.5-3.7 4.9-8.3 14.7-1.5 3.2-3.6 11.4-2 8.2-1.3 6.5-1.6 9.7-0.8 6.6-1.3 14.6-0.2 9.8-0.6 8.1 0.1 9.8-0.5 8.1 0.2 9.8-0.5 8.1 0.3 9.8-0.5 8.2 0.3 9.7-0.5 8.2 0.4 8.1-0.5 9.8 0.3 9.7-0.4 8.2 0.3 9.8-0.4 8.1-55.1 0-0.4-8.1 0.3-9.8-0.4-8.2 0.3-9.7-0.5-9.8 0.4-8.1-0.5-8.2 0.3-9.7-0.5-8.2 0.3-9.8-0.5-8.1 0.2-9.8-0.5-8.1 0.1-9.8-0.5-8.1-0.3-9.8-2-21.2-1.8-11.4-1.7-8.1-2.6-9.8-2.8-8.1-9.8-17.9-5-6.4-4.9-5.4-4.9-4.6-8.2-6.5-17.9-9.9-8.2-2.7-9.8-2.6-8.1-1.7-11.4-1.8-21.2-2-9.8-0.3-8.2-0.5-9.8 0.1-8.1-0.5-9.8 0.2-8.2-0.5-9.8 0.3-8.1-0.5-9.8 0.3-8.2-0.5-8.1 0.3-9.8-0.4-9.8 0.3-8.2-0.4-9.7 0.3-8.2-0.4 0-55 8.2-0.4 9.7 0.3 8.2-0.4 9.8 0.3 9.8-0.4 8.1 0.3 8.2-0.5 9.8 0.3 8.1-0.5 9.8 0.3 8.2-0.5 9.8 0.2 8.1-0.5 9.8 0.1 8.2-0.6 9.8-0.2 14.6-1.3 6.6-0.8 9.8-1.6 6.5-1.3 8.1-2 11.5-3.6 3.2-1.5 14.7-8.2 5-3.7 6.4-5.7 4.1-4.1 5.6-6.5 3.4-4.7 1.6-3.5 3.9-11.4 2.4-8.1 2.5-9.8 2.8-13 1.7-9.8 1.3-9.7 1.1-13.1 0.7-17.9 0.9-37.4 1.5-48.9 0.4-34.2z"/>
<path fill="#0cb4d0" stroke-opacity="0.51" d="M1324.2 53.2l42.9 0 0.5 32.6 2.5 51.9 1.4 40.9 1.2 17.9 0.8 8.1 1 6.5 3.2 16.3 3.4 14.7 3 9.8 4.9 13 2.3 4.9 2.1 3.2 7.7 9.7 4.7 5 5.6 4.9 9.3 7.2 3.3 1.8 4.9 2.1 13 4.8 9.8 2.8 14.7 3.4 16.3 3.1 13 1.5 18 1.2 41 1.4 52 2.5 32.6 0.5 0 42.8-32.6 0.5-52.1 2.5-40.9 1.4-16.3 1-13.1 1.4-13 2.3-17.4 3.7-8.7 2.3-9.8 3.3-9.8 3.7-4.9 2.4-3.3 2.3-9.8 7.7-3.2 3-3.3 3.4-7.5 9.3-2.3 3.3-10.6 16.3-3 8.1-3.6 13.1-1.5 6.5-2.3 11.4-2.4 19.5-0.4 9.8-0.7 8.1 0.1 9.8-0.8 8.1 0.5 9.8-0.9 8.1 0.5 9.8-0.8 8.2 0.5 9.7-0.7 8.2 0.5 9.7-0.7 8.2 0.6 9.7-0.8 8.2 0.7 9.8-0.8 8.1-38.1 0-0.8-8.1 0.7-9.8-0.8-8.2 0.6-9.7-0.7-8.2 0.5-9.7-0.7-8.2 0.5-9.7-0.8-8.2 0.5-9.8-0.8-8.1 0.4-9.8-0.8-8.1 0.2-9.8-0.8-8.1-0.3-9.8-2.4-19.5-2.2-11.4-1.5-6.5-3.6-13.1-2.8-8.1-11.4-17.9-7.8-10.2-4.9-5.4-4.9-4.3-9.8-7.4-17.9-11.4-8.2-2.8-13-3.6-6.5-1.5-13.1-2.4-17.9-2.2-9.8-0.3-8.2-0.8-9.8 0.2-8.1-0.8-9.8 0.5-8.2-0.9-9.8 0.5-8.1-0.8-9.8 0.5-8.2-0.7-9.8 0.6-8.1-0.8-9.8 0.6-8.2-0.8-9.7 0.7-8.2-0.8 0-38 8.2-0.8 9.7 0.7 8.2-0.8 9.8 0.6 8.1-0.8 9.8 0.6 8.2-0.7 9.8 0.5 8.1-0.8 9.8 0.5 8.2-0.9 9.8 0.5 8.1-0.8 9.8 0.1 8.2-0.7 9.8-0.4 19.5-2.4 11.5-2.3 6.5-1.5 13-3.6 8.2-2.9 16.3-10.6 3.3-2.4 9.3-7.5 3.5-3.2 3-3.3 7.7-9.7 2.3-3.3 2.4-4.9 3.7-9.8 3.3-9.7 2.3-8.7 3.7-17.4 2.3-13 1.4-13 1-16.3 1.4-40.9 2.5-51.9 0.5-31z"/>
<path fill="#11bbc1" stroke-opacity="0.52" d="M1338.6 53.2l14.1 0 0.9 22.8 0.6 9.8 4.5 47.2 2.6 40.7 0.9 11.4 1.2 9.8 1.3 8.1 1.4 6.5 3.1 11.4 4.5 16.3 3.5 11.4 2.9 8.1 4.2 9.8 2.9 4.9 5.8 6.6 6.3 8.1 3.4 3.7 3.3 2.9 8.1 6.4 6.6 5.8 3.3 2 3.2 1.6 9.8 4 9.8 3.4 9.8 2.9 19.6 5.4 8.1 2.1 6.5 1.3 8.2 1.3 8.2 0.9 11.4 0.9 40.8 2.5 47.3 4.6 9.8 0.6 22.8 0.8 0 14.2-22.8 0.8-11.5 0.7-45.6 4.5-50.6 3.3-11.4 1.2-9.8 1.6-11.4 2.8-24.5 6.7-13.1 4.2-11.4 4.5-3.2 1.5-3.3 1.9-18 14.6-4.5 4.8-6.5 8.2-5.6 6.5-6.1 8.1-5.7 8.2-2.9 6.5-6.8 17.9-5.3 16.3-1.8 9.8-1.9 8.1-0.5 9.8-1.6 8.1 0.4 9.8-1.7 8.1 0 1.7 1.1 6.5-0.1 1.6-0.3 1.6-1.5 4.9-0.2 1.6 0 1.7 1.1 4.9 0.2 3.2-0.3 1.8-1.6 4.7-0.2 1.7 0 1.6 1.3 4.9 0.2 3.2-0.3 1.7-1.6 4.8-0.3 1.7 0.1 1.6 1.4 4.9 0.3 3.2-0.3 1.7-1.7 4.8-0.3 1.7 0.1 1.6 1.5 4.9 0.3 3.2-0.3 1.7-1.8 4.9-0.3 1.6 0.7 3.2 1.1 3.4 0.3 3.2-0.3 1.7-1.7 4.8-0.4 1.6-5.5 0-0.4-1.6-1.7-4.8-0.3-1.7 0.3-3.2 1.1-3.4 0.7-3.2-0.3-1.6-1.8-4.9-0.3-1.7 0.3-3.2 1.5-4.9 0.1-1.6-0.3-1.7-1.7-4.8-0.3-1.7 0.3-3.2 1.4-4.9 0.1-1.6-0.3-1.7-1.6-4.8-0.3-1.7 0.2-3.2 1.3-4.9 0-1.6-0.2-1.7-1.6-4.7-0.3-1.8 0.2-3.2 1.1-4.9 0-1.7-0.2-1.6-1.5-4.9-0.3-1.6-0.1-1.6 1.1-6.5 0-1.7-1.7-8.1 0.5-9.8-1.7-8.1-0.5-9.8-1.9-8.1-1.4-8.2-0.8-3.2-4.7-14.7-6.8-17.9-2.8-6.5-12.8-17.9-4.5-5.4-5.9-7.7-4.4-4.8-4.4-3.9-7.7-5.9-5.4-4.6-17.9-12.7-6.5-2.8-18-6.8-14.7-4.7-3.2-0.8-8.2-1.4-8.1-1.9-9.8-0.5-8.2-1.6-9.8 0.5-8.1-1.8-1.7 0-6.5 1.1-1.6-0.1-1.6-0.2-4.9-1.5-1.7-0.3-1.6 0.1-4.9 1.1-3.3 0.1-1.7-0.3-4.8-1.5-1.6-0.3-1.7 0.1-4.8 1.2-3.3 0.3-1.6-0.3-4.9-1.7-1.7-0.2-1.6 0.1-4.9 1.4-3.3 0.2-1.6-0.3-4.9-1.7-1.6-0.2-1.6 0.1-4.9 1.5-3.3 0.2-1.6-0.3-4.9-1.7-1.7-0.3-3.2 0.6-3.3 1.2-3.2 0.3-1.8-0.3-4.8-1.8-1.6-0.3 0-5.6 1.6-0.3 4.8-1.8 1.8-0.3 3.2 0.3 3.3 1.2 3.2 0.6 1.7-0.3 4.9-1.7 1.6-0.3 3.3 0.2 4.9 1.5 1.6 0.1 1.6-0.2 4.9-1.7 1.6-0.3 3.3 0.2 4.9 1.4 1.6 0.1 1.7-0.2 4.9-1.7 1.6-0.3 3.3 0.3 4.8 1.2 1.7 0.1 1.6-0.3 4.8-1.5 1.7-0.3 3.3 0.1 4.9 1.1 1.6 0.1 1.7-0.3 4.9-1.5 1.6-0.2 1.6-0.1 6.5 1 1.7 0.1 8.1-1.8 9.8 0.5 8.2-1.6 9.8-0.6 8.1-1.9 9.8-1.8 16.3-5.2 18-6.8 6.5-2.9 8.1-5.7 8.2-6.1 6.5-5.6 8.2-6.5 4.8-4.5 14.6-17.9 2-3.3 1.5-3.2 4.5-11.4 4.2-13 6.7-24.5 2.8-11.4 1.8-11.4 1.3-13 2.9-45.6 4.8-50.5 1.3-29.3z"/>
<path fill="#1cc1b1" stroke-opacity="0.52" d="M1343.6 203l0.4-0.5 1.6-0.6 1.7 0.6 1.6 1.8 1.6 2.5 3.3 5.5 6.5 13.6 17.4 39 2.6 4.9 2.6 3.2 6.8 6.8 6.5 7.9 4.6 4.9 11.4 9.7 6.9 6.8 3.2 2.6 4.9 2.6 39.1 17.3 13.6 6.6 5.6 3.2 2.4 1.6 1.8 1.7 0.6 1.6-0.6 1.6-1.8 1.7-2.5 1.6-8.8 4.9-25.2 11.4-24.2 10.5-3.2 1.5-3.3 2-9.4 8.8-10 8.1-4.8 4.9-8.4 9.9-7.7 8-3.8 5-4.8 5.5-5.7 5.8-3.6 4.9-7.1 11-1.6 2.3-3.3 3.5-1.6 1.4-1.6 1-1.7 0.3-1.6-0.4-1.6-1-1.6-1.4-3.3-3.6-1.6-2.3-6.9-10.8-3.5-4.9-4.3-4.3-4.9-5.5-6.2-8.1-6.2-6.5-8.1-9.8-3-3.3-3.4-3.2-11.7-9.8-5.5-5.2-6.1-4.6-5.7-4.8-6.1-6-4.9-3.5-10.9-6.8-4.2-3.3-3.1-3.2-1-1.7-0.3-1.6 0.3-1.6 0.9-1.7 3-3.2 4.2-3.3 11.1-7.1 4.9-3.5 5.8-5.7 5.5-4.8 5-3.8 8-7.6 11.4-9.8 4.7-4.9 8-9.8 7.6-8.1 2.1-3.3 1.5-3.2 20.3-45.9 3.3-6.6 4.9-8z"/>
<path fill="#2ec5a1" stroke-opacity="0.53" d="M1342.7 235.6l1.3-0.7 1.6-0.3 1.7 0.3 1.6 0.8 3.3 2.6 1.6 1.7 3.3 4.2 9.8 13.8 6.1 10.1 4.1 4.9 8.5 8.2 12.3 13.1 13 12.1 9.8 10 3.3 2.6 10.1 6.1 16.1 11.4 1.9 1.7 3.2 3.2 1.2 1.6 0.8 1.7 0.2 1.6-0.3 1.6-0.8 1.7-1.2 1.6-3.2 3.2-2 1.7-16.3 11.4-9.7 5.8-4.9 3.9-8.1 8.2-14.4 13-10.2 10.8-10.4 10.4-6.2 6.5-2.9 2.4-4.9 3.4-8.2 4.6-4.9 2.1-1.6 0.4-1.7 0.1-3.2-0.6-4.9-2.1-4.9-2.6-4.9-3.2-5.9-4.5-15.3-16-11.4-12.5-13.3-12.2-9.6-9.3-4.9-4.3-2.5-2.7-4.7-6.5-3-4.9-1.7-3.3-2.2-4.8-0.6-3.3 0.6-3.3 2.1-4.8 1.7-3.3 2.9-4.9 4.7-6.5 2.7-3 4.9-4.5 8.7-8.8 12.5-11.8 13.1-14.3 9.6-9.7 2.5-3.3 5.8-9.7 9.8-14 3.3-4.2 1.6-1.7 3.3-2.8z"/>
<path fill="#45c98c" stroke-opacity="0.54" d="M1342.4 255.1l1.6-0.5 1.6-0.2 1.7 0.2 3.2 1.2 3.3 2 3.3 2.8 7.4 7.5 3.8 3.3 6.7 5.2 3.3 2.9 14.7 14.3 19.5 19.9 2.9 3.3 5.3 6.7 3.3 3.8 9 9 1.3 1.7 2 3.2 1.3 3.3 0.1 1.6-0.2 1.6-0.5 1.7-2.8 4.8-2.8 3.3-9.1 8.8-7.3 9.1-2.5 2.7-19.5 19.3-18 17.2-6.5 5.2-4.9 3.5-3.3 2.1-3.2 1.6-4.9 1.8-4.9 1.1-3.3 0-4.9-1.1-4.9-1.9-4.8-2.6-5-3.6-6.5-5.2-3.2-2.9-35.6-35.6-3-3.2-5.2-6.5-4.5-6.5-3.1-6.6-1.6-6.5 0-3.2 0.6-3.3 1-3.2 2.1-4.9 1.9-3.6 2.1-2.9 7.6-9.8 17.3-17.9 20.4-20.6 10.7-8.7 10.5-10.6 1.6-1.3 3.3-2z"/>
<path fill="#5ccc76" stroke-opacity="0.54" d="M1343.6 268.1l2-0.2 1.7 0.1 4.9 1.4 6.5 2.9 9.8 4.9 6.5 4.9 6.5 6.1 11.5 10.1 11.4 12.8 5.5 5.9 5 6.5 7.1 14.7 1.7 4.8 0.5 3.3-0.5 3.3-1.8 4.8-7.3 14.7-2.4 3.3-2.8 3.2-6.7 6.9-9.7 10.7-11.8 10.1-6.2 5.8-6.5 5.2-3.5 2-7.9 3.8-4.9 1.9-3.3 0.8-1.6 0.3-3.3 0-4.9-1.2-6.5-2.7-8.2-4.2-3.2-2.3-3.3-2.7-8.8-8.3-9.2-8.2-11.3-12.5-5.3-5.4-4.2-4.9-2-2.7-3.7-7-2.9-6.6-1.5-4.8-0.4-3.3 0.4-3.3 1.4-4.8 2.8-6.6 3.9-7.5 5.7-7.1 5.8-6.2 9.7-11.4 11.1-10.1 6.9-6.7 4.9-4 3.2-2.1 11.5-5.6 6.5-2.5z"/>
<path fill="#7bcb5d" stroke-opacity="0.55" d="M1337.3 276.3l5.1-1.1 4.9-0.2 6.5 1.1 6.5 2.3 6.6 3.3 3.2 2.2 18 14.5 3.2 3 2.4 2.6 10.7 13 5 6.5 2.7 4.9 2.2 4.9 1.7 4.9 0.9 4.8 0.2 4.9-0.8 4.9-2.1 6.5-2.3 4.9-1.8 3.3-2.3 3.2-14.8 17.6-5.5 5.2-19 15-8.2 4.5-6.5 2.5-4.9 1-4.9 0.2-6.5-1.3-4.9-1.9-4.9-2.4-4.9-2.9-6.5-5.2-11.4-9.5-3.3-3-3.2-3.5-9.6-11.4-5.1-6.5-2.9-4.9-3.2-6.5-1.2-3.3-1.1-4.8-0.2-4.9 0.8-4.9 1.5-4.9 2.3-4.9 2.6-4.9 2.2-3.2 13.8-17.4 5.3-5.4 17.6-14.9 3.2-2.2 3.3-1.8 4.9-2.3 3.3-1.2z"/>
<path fill="#9ac946" stroke-opacity="0.55" d="M1339.1 281.2l4.9-0.9 3.3 0 3.2 0.4 3.3 0.8 4.9 1.8 9.8 4.9 8.1 5.7 8.7 6.8 4.4 4.2 3.3 3.8 6.4 8.3 4.4 6.5 3.5 6.5 2.2 4.9 1.1 3.3 1 4.8 0.3 3.3-0.6 4.9-1.4 4.9-2.1 4.9-3.3 6.5-2.1 3.2-4.8 6.5-5.4 6.6-3 3.2-4.4 4.1-8.2 6.3-4.8 3.4-4.9 3.2-3.3 1.6-4.9 2.3-4.9 1.8-4.9 1.1-4.9 0.2-4.9-0.9-4.9-1.7-4.9-2.2-6.5-3.6-6.5-4.5-7.8-6.2-3.6-3.3-4.9-5.2-6.2-7.8-4.6-6.5-3.6-6.5-2.2-4.9-1.7-4.9-0.9-4.9 0-3.2 0.9-4.9 1.5-4.9 2.2-4.9 2.5-4.9 2-3.2 4.6-6.5 6.3-8.2 4.1-4.4 3.2-3 6.6-5.3 6.5-4.8 3.2-2.1 4.9-2.6 4.9-2.2 3.3-1.2z"/>
<path fill="#b8c432" stroke-opacity="0.56" d="M1343.1 286.1l4.2-0.2 6.5 1.2 4.9 1.7 6.5 2.8 3.3 1.6 6.5 4.1 3.3 2.4 4.9 4.3 4.9 4.8 4.9 5.7 1.7 2.5 4.1 6.5 3.1 6.5 2 4.9 1.5 4.9 0.7 4.9-0.2 4.9-1.1 4.8-1.7 4.9-2.9 6.5-1.7 3.3-4.2 6.5-2.6 3.3-3.6 3.8-4.4 4.3-7.1 5.9-8.1 5.2-4.9 2.3-6.5 2.6-3.3 1.1-4.9 1-3.3 0.2-4.8-0.5-4.9-1.3-4.9-1.9-6.6-3-4.9-2.9-4.8-3.4-4.3-3.7-5-4.8-5.4-6-1.7-2.2-4.2-6.5-3.1-6.5-2.6-6.5-1-3.3-0.8-4.9 0.1-4.9 1-4.8 1.7-4.9 3.5-8.2 5.4-8.9 6.6-7.9 4.2-4.3 5.5-4.9 8.2-5.6 6.5-3.1 4.9-2.1 3.3-1.1 4.9-1.1z"/>
<path fill="#d2bf2e" stroke-opacity="0.56" d="M1336.7 292.6l5.7-1.2 3.2-0.3 3.3 0.2 4.9 0.9 4.9 1.5 8.2 3.3 3.8 2.1 4.3 3 4 3.5 8.1 8.1 2.9 3.3 3 4.3 2 3.8 2.7 6.5 1.7 4.9 1.1 4.9 0.4 3.3 0 3.2-0.8 4.9-0.9 3.3-1.7 4.9-2.7 6.5-1.8 3.2-3.3 4.6-3.3 3.6-8.1 7.6-3.3 2.8-3.2 2.2-4.9 2.8-6.6 2.6-4.9 1.7-3.2 0.7-4.9 0.7-3.3 0-4.9-0.7-6.5-2-8.2-3.3-3.2-1.8-3.3-2.2-3.6-3-8.2-8.1-3-3.3-3.1-4.4-2.2-3.7-2.7-6.5-1.7-4.9-1.1-4.9-0.5-3.3 0-3.2 0.7-4.9 0.8-3.3 1.6-4.9 2.6-6.5 1.8-3.2 3.3-4.9 2.8-3.3 7.7-8.1 3.2-3 2.5-1.9 2.4-1.6 3.2-1.8 6.6-2.8 4.9-1.7z"/>
<path fill="#eaba30" stroke-opacity="0.56" d="M1335.8 297.4l3.3-0.7 4.9-0.7 3.3-0.1 4.9 0.7 3.7 0.8 4.9 1.7 6.1 2.7 3.2 2 6.5 5.3 7.8 7.9 3.7 4.6 2.2 3.5 2.2 4.9 1.7 4.9 0.9 3.3 0.9 4.8 0.1 3.3-0.2 3.3-0.9 4.8-0.9 3.3-1.8 4.9-2.3 4.9-1.9 3-2.8 3.5-3.1 3.2-7 6.6-3.4 2.6-4.9 3.1-4.9 2.2-4.9 1.8-4.9 1.2-4.9 0.6-3.3 0-3.2-0.4-4.9-1-3.3-1.1-6.1-2.5-3.7-2-4-2.9-4.1-3.6-6.1-6.2-3.7-4.6-2.3-3.5-2.3-4.9-1.8-4.9-0.9-3.3-0.9-4.8-0.2-3.3 0.2-3.3 0.5-3.2 1.1-4.9 1.2-3.3 2-4.8 1.7-3.3 3.3-4.6 2.9-3.5 5.3-5.6 4.6-4.2 5.1-3.5 4.9-2.3 4.9-1.9z"/>
<path fill="#f6c233" stroke-opacity="0.56" d="M1343 300.7l4.3-0.1 3.2 0.4 4.9 1.1 3.3 1.2 8.2 4 3.2 2.2 4.9 4.1 3.4 3.4 4.1 4.9 3.1 4.9 2.4 4.8 1.9 4.9 0.8 3.3 0.8 4.9-0.1 3.2-0.7 4.9-0.9 3.3-1.7 4.4-2.7 5.3-2.1 3.3-5.5 6.5-2.8 2.7-4.9 3.8-4.9 3-8.1 3.5-3.3 1-4.9 0.9-3.3 0.2-4.6-0.4-3.5-0.8-4.9-1.6-8.2-4-3.2-2.2-4.9-4-2.1-2.1-4-4.9-2.2-3.2-1.8-3.3-2.2-4.9-1.2-3.2-0.8-3.3-0.8-4.9 0-3.2 0.4-3.3 0.7-3.2 1.6-4.9 3.8-8.2 2.1-3.2 3.8-4.9 2.7-2.8 3.2-2.9 3.3-2.6 2.3-1.5 4.2-2.2 4.9-2.2 3.3-1 4.9-1z"/>
<path fill="#fdcc33" stroke-opacity="0.56" d="M1337.7 307.2l4.7-1 3.2-0.3 3.3 0.2 3.3 0.7 3.2 0.9 3.3 1.3 4.9 2.5 4.9 2.8 3.3 2.7 3.2 3.2 1.6 1.9 2.1 3 2.7 4.9 2.3 4.9 1.1 3.3 0.8 3.2 0.5 3.3 0 3.2-0.5 3.3-0.9 3.2-2.7 6.6-4.7 8.1-3.9 4.4-4.9 4.1-3.3 1.8-4.9 2.4-6.5 2.5-4.9 1-3.3 0.2-3.2-0.2-3.3-0.7-3.2-1-4.9-2-4.9-2.4-3.3-2-2-1.6-3.4-3.2-2.7-3.3-1.1-1.6-2.5-4.9-2.3-4.9-1.1-3.3-0.8-3.2-0.5-3.3 0-3.2 1.2-6.5 2.5-6.6 2.4-4.8 1.8-3.3 4.1-4.9 4.4-3.9 8.2-4.7 6.5-2.7z"/>
<path fill="#f7dc2b" stroke-opacity="0.56" d="M1342.8 312.1l2.8-0.2 3.3 0.2 3.3 0.7 3.2 1 3.3 1.3 3.7 1.9 4.5 2.9 1.6 1.3 3.6 3.9 2.9 4.5 1.6 3.1 2.2 5.5 0.8 3.2 0.5 3.3-0.2 4.9-0.7 3.2-1.1 3.3-1.3 3.2-1.8 3.3-3.2 4.9-1.4 1.6-3.5 3.1-6.6 3.9-4.9 2-3.2 0.9-3.3 0.6-3.3 0.3-3.2-0.3-3.3-0.6-3.2-1-3.3-1.3-3.3-1.7-4.1-2.6-2.2-1.7-1.8-1.8-1.7-2.1-2.6-4.2-1.7-3.3-1.8-4.9-0.8-3.2-0.5-3.3 0-3.2 0.4-3.3 0.8-3.2 1.1-3.3 2.3-4.9 2.8-4.7 1.5-1.8 3.4-3.3 6.6-4.1 5.3-2.4 6.1-1.5z"/>
<path fill="#f7ec20" stroke-opacity="0.56" d="M1342.1 318.6l1.9-0.3 3.3 0 4.9 1 4.9 2 4.9 3.1 4.9 4.7 2.9 4.2 2.3 4.9 1.4 4.8 0.3 3.3-0.1 1.6-0.6 3.3-1.7 4.9-2.9 5-1.6 2-2.8 2.7-4 3.3-4.7 2.5-4.9 1.6-4.9 0.6-4.8-0.6-4.9-1.7-4.9-2.8-1.7-1.2-3.2-3.1-3.3-4-1.6-2.7-1.5-3.3-1.3-4.8-0.3-3.3 0.6-4.9 1.6-4.9 2.6-4.9 1.5-2 2.7-2.8 3.8-3.3 5-2.9 4.9-1.7z"/>
<path fill="#f9fb15" stroke-opacity="0.56" d="M1343.5 326.8l2.1-0.3 3.3 0.5 4.9 2.1 3.3 2.3 3.5 3.5 2.3 3.3 1.5 3.2 0.9 3.3 0 3.2-0.9 3.3-1.6 3.2-2.4 3.3-1.7 1.8-3.3 2.6-3.2 1.9-3.3 1.2-3.3 0.5-3.2-0.5-3.3-1.3-3.2-1.9-3.3-2.8-2.7-3.1-1.9-3.3-1.3-3.2-0.3-1.7 0-3.2 0.9-3.3 1.4-3.2 2.3-3.3 1.6-1.8 3.3-2.8 3.2-2 3.3-1.3z"/>
</g>
<rect x="1056.0" y="57.2" width="579.3" height="578.2" fill="none" stroke="#1a1a2a" stroke-opacity="0.6" stroke-width="1.1"/>
<linearGradient id="cb2" x1="0" y1="0" x2="0" y2="1"><stop offset="0.0000" stop-color="#f9fb15"/><stop offset="0.0156" stop-color="#f8f519"/><stop offset="0.0312" stop-color="#f7ee1e"/><stop offset="0.0469" stop-color="#f6e823"/><stop offset="0.0625" stop-color="#f6e128"/><stop offset="0.0781" stop-color="#f8da2b"/><stop offset="0.0938" stop-color="#fad32f"/><stop offset="0.1094" stop-color="#fccc33"/><stop offset="0.1250" stop-color="#fdc635"/><stop offset="0.1406" stop-color="#f8c334"/><stop offset="0.1562" stop-color="#f3c033"/><stop offset="0.1719" stop-color="#eebd31"/><stop offset="0.1875" stop-color="#e8bb30"/><stop offset="0.2031" stop-color="#debd2f"/><stop offset="0.2188" stop-color="#d4bf2e"/><stop offset="0.2344" stop-color="#cac12d"/><stop offset="0.2500" stop-color="#bfc32d"/><stop offset="0.2656" stop-color="#b3c536"/><stop offset="0.2812" stop-color="#a6c73e"/><stop offset="0.2969" stop-color="#99c947"/><stop offset="0.3125" stop-color="#8dcb50"/><stop offset="0.3281" stop-color="#80cb5a"/><stop offset="0.3438" stop-color="#73cc64"/><stop offset="0.3594" stop-color="#66cc6e"/><stop offset="0.3750" stop-color="#59cc79"/><stop offset="0.3906" stop-color="#4fcb82"/><stop offset="0.4062" stop-color="#45c98b"/><stop offset="0.4219" stop-color="#3cc895"/><stop offset="0.4375" stop-color="#32c69e"/><stop offset="0.4531" stop-color="#2ac4a5"/><stop offset="0.4688" stop-color="#22c2ab"/><stop offset="0.4844" stop-color="#1ac0b2"/><stop offset="0.5000" stop-color="#13beb9"/><stop offset="0.5156" stop-color="#11bbbf"/><stop offset="0.5312" stop-color="#0fb9c6"/><stop offset="0.5469" stop-color="#0db6cc"/><stop offset="0.5625" stop-color="#0cb3d3"/><stop offset="0.5781" stop-color="#11afd7"/><stop offset="0.5938" stop-color="#16abdb"/><stop offset="0.6094" stop-color="#1ca7df"/><stop offset="0.6250" stop-color="#21a3e3"/><stop offset="0.6406" stop-color="#249ee7"/><stop offset="0.6562" stop-color="#2799ea"/><stop offset="0.6719" stop-color="#2995ed"/><stop offset="0.6875" stop-color="#2c90f0"/><stop offset="0.7031" stop-color="#2e8af3"/><stop offset="0.7188" stop-color="#3085f6"/><stop offset="0.7344" stop-color="#3180fa"/><stop offset="0.7500" stop-color="#337afd"/><stop offset="0.7656" stop-color="#3874fd"/><stop offset="0.7812" stop-color="#3c6efc"/><stop offset="0.7969" stop-color="#4168fc"/><stop offset="0.8125" stop-color="#4562fc"/><stop offset="0.8281" stop-color="#465df9"/><stop offset="0.8438" stop-color="#4657f6"/><stop offset="0.8594" stop-color="#4751f3"/><stop offset="0.8750" stop-color="#484cef"/><stop offset="0.8906" stop-color="#4747e9"/><stop offset="0.9062" stop-color="#4641e2"/><stop offset="0.9219" stop-color="#463cdb"/><stop offset="0.9375" stop-color="#4536d5"/><stop offset="0.9531" stop-color="#4332ca"/><stop offset="0.9688" stop-color="#412ebf"/><stop offset="0.9844" stop-color="#402ab3"/><stop offset="1.0000" stop-color="#3e26a8"/></linearGradient>
<rect x="1666.0" y="56.8" width="38.2" height="578.6" fill="url(#cb2)" stroke="#262626" stroke-opacity="0.6" stroke-width="0.9"/>
<line x1="1700.2" y1="107.0" x2="1704.2" y2="107.0" stroke="#262626" stroke-width="1"/>
<line x1="1700.2" y1="238.4" x2="1704.2" y2="238.4" stroke="#262626" stroke-width="1"/>
<line x1="1700.2" y1="369.9" x2="1704.2" y2="369.9" stroke="#262626" stroke-width="1"/>
<line x1="1700.2" y1="501.3" x2="1704.2" y2="501.3" stroke="#262626" stroke-width="1"/>
<text transform="translate(1039.0,68.0) scale(0.972,1)" font-size="40.4" text-anchor="end" >5</text>
<text transform="translate(1039.0,357.5) scale(0.972,1)" font-size="40.4" text-anchor="end" >0</text>
<text transform="translate(1039.0,646.5) scale(0.972,1)" font-size="40.4" text-anchor="end" >-5</text>
<text transform="translate(1055.2,686.2) scale(0.972,1)" font-size="40.4" text-anchor="middle" >-5</text>
<text transform="translate(1345.0,686.2) scale(0.972,1)" font-size="40.4" text-anchor="middle" >0</text>
<text transform="translate(1635.5,686.2) scale(0.972,1)" font-size="40.4" text-anchor="middle" >5</text>
<text transform="translate(1717.0,118.2) scale(0.972,1)" font-size="40.4" text-anchor="start" >0.2</text>
<text transform="translate(1717.0,250.0) scale(0.972,1)" font-size="40.4" text-anchor="start" >0.15</text>
<text transform="translate(1717.0,382.6) scale(0.972,1)" font-size="40.4" text-anchor="start" >0.1</text>
<text transform="translate(1717.0,513.2) scale(0.972,1)" font-size="40.4" text-anchor="start" >0.05</text>
<text x="1292.6" y="742.6" font-size="42.0" text-anchor="start" textLength="116" lengthAdjust="spacingAndGlyphs">y (<tspan font-style="italic">μ</tspan>m)</text>
<text transform="translate(983.5,397.5) rotate(-90)" font-size="42.0" textLength="112.5" lengthAdjust="spacingAndGlyphs">z (<tspan font-style="italic">μ</tspan>m)</text>
<text transform="translate(1839.5,501.5) rotate(-90)" font-size="40.4" textLength="309" lengthAdjust="spacingAndGlyphs">Intensity (rel. un.)</text>
<circle cx="1786.4" cy="734.9" r="25" fill="#fff" stroke="#333" stroke-width="1.3"/>
<text x="1788.0" y="748.4" font-size="39.0" text-anchor="middle" fill="#111">b</text>
</svg>
</body></html>
